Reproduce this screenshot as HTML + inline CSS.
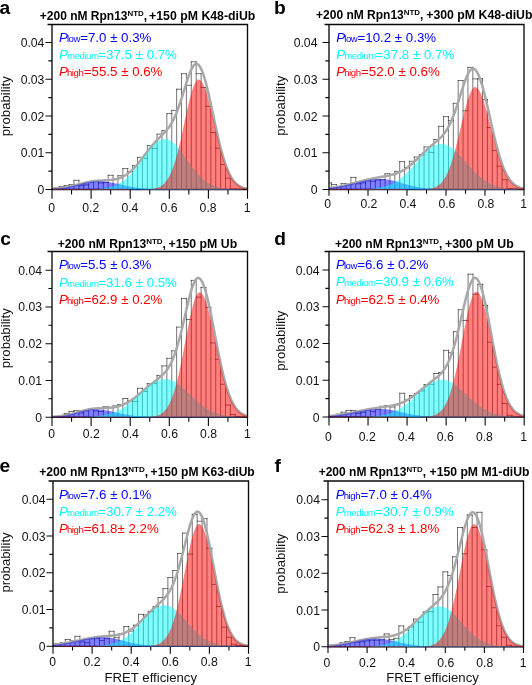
<!DOCTYPE html>
<html lang="en">
<head>
<meta charset="utf-8">
<title>FRET efficiency histograms</title>
<style>
html,body{margin:0;padding:0;background:#fff;}
body{width:532px;height:685px;overflow:hidden;font-family:"Liberation Sans",Arial,Helvetica,sans-serif;}
svg{display:block;}
text{font-family:"Liberation Sans",Arial,Helvetica,sans-serif;fill:#111;}
.tk{font-size:12.2px;}
.lb{font-size:13.2px;}
.tt{font-weight:bold;fill:#000;}
.sp{font-size:7.9px;}
.t2{font-size:12.3px;}
.lt{font-size:19.2px;font-weight:bold;fill:#000;}
.lg{font-size:13.3px;}
.lg text{fill:inherit;}
.sb{font-size:9.6px;letter-spacing:-0.4px;}
</style>
</head>
<body>
<svg width="532" height="685" viewBox="0 0 532 685">
<rect width="532" height="685" fill="#fff"/>
<defs>
<clipPath id="ca"><rect x="52" y="24.5" width="195.5" height="165.6"/></clipPath>
<clipPath id="cb"><rect x="329" y="24.5" width="195" height="165.6"/></clipPath>
<clipPath id="cc"><rect x="52" y="251.5" width="195.5" height="166.29999999999998"/></clipPath>
<clipPath id="cd"><rect x="329" y="251.5" width="195.20000000000005" height="166.1"/></clipPath>
<clipPath id="ce"><rect x="53" y="481" width="195.5" height="165.89999999999995"/></clipPath>
<clipPath id="cf"><rect x="328" y="481" width="195.5" height="166.39999999999995"/></clipPath>
</defs>
<g id="panel-a">
<g clip-path="url(#ca)">
<path d="M49.56 188.80h4.89M54.44 187.90h4.89M59.33 186.60h4.89M64.22 185.60h4.89M69.11 184.60h4.89M73.99 180.30h4.89M78.88 185.80h4.89M83.77 184.90h4.89M88.66 182.50h4.89M93.54 181.60h4.89M98.43 182.90h4.89M103.32 182.50h4.89M108.21 175.30h4.89M113.09 179.21h4.89M117.98 175.70h4.89M122.87 168.60h4.89M127.76 171.73h4.89M132.64 165.60h4.89M137.53 157.40h4.89M142.42 158.30h4.89M147.31 145.60h4.89M152.19 148.40h4.89M157.08 134.20h4.89M161.97 130.70h4.89M166.86 113.60h4.89M171.74 110.40h4.89M176.63 89.20h4.89M181.52 73.70h4.89M186.41 85.30h4.89M191.29 61.80h4.89M196.18 73.70h4.89M201.07 87.50h4.89M205.96 106.30h4.89M210.84 132.50h4.89M215.73 148.20h4.89M220.62 164.50h4.89M225.51 178.10h4.89M230.39 189.00h4.89M235.28 189.20h4.89M240.17 189.40h4.89M245.06 189.50h4.89M49.56 189.50V188.80M54.44 189.50V187.90M59.33 189.50V186.60M64.22 189.50V185.60M69.11 189.50V184.60M73.99 189.50V180.30M78.88 189.50V180.30M83.77 189.50V184.90M88.66 189.50V182.50M93.54 189.50V181.60M98.43 189.50V181.60M103.32 189.50V182.50M108.21 189.50V175.30M113.09 189.50V175.30M117.98 189.50V175.70M122.87 189.50V168.60M127.76 189.50V168.60M132.64 189.50V165.60M137.53 189.50V157.40M142.42 189.50V157.40M147.31 189.50V145.60M152.19 189.50V145.60M157.08 189.50V134.20M161.97 189.50V130.70M166.86 189.50V113.60M171.74 189.50V110.40M176.63 189.50V89.20M181.52 189.50V73.70M186.41 189.50V73.70M191.29 189.50V61.80M196.18 189.50V61.80M201.07 189.50V73.70M205.96 189.50V87.50M210.84 189.50V106.30M215.73 189.50V132.50M220.62 189.50V148.20M225.51 189.50V164.50M230.39 189.50V178.10M235.28 189.50V189.00M240.17 189.50V189.20M245.06 189.50V189.40M249.94 189.50V189.50" fill="none" stroke="#1a1a1a" stroke-width="0.6" stroke-linecap="square"/>
<path d="M52.00 188.98 L52.98 188.91 L53.95 188.84 L54.93 188.76 L55.91 188.68 L56.89 188.59 L57.87 188.49 L58.84 188.38 L59.82 188.26 L60.80 188.14 L61.77 188.01 L62.75 187.86 L63.73 187.71 L64.71 187.55 L65.69 187.38 L66.66 187.20 L67.64 187.01 L68.62 186.81 L69.59 186.61 L70.57 186.39 L71.55 186.17 L72.53 185.94 L73.50 185.70 L74.48 185.46 L75.46 185.22 L76.44 184.97 L77.41 184.72 L78.39 184.46 L79.37 184.21 L80.35 183.95 L81.33 183.70 L82.30 183.45 L83.28 183.20 L84.26 182.96 L85.23 182.73 L86.21 182.50 L87.19 182.29 L88.17 182.08 L89.15 181.88 L90.12 181.70 L91.10 181.53 L92.08 181.37 L93.06 181.23 L94.03 181.10 L95.01 180.98 L95.99 180.88 L96.97 180.79 L97.94 180.71 L98.92 180.65 L99.90 180.59 L100.88 180.53 L101.85 180.48 L102.83 180.44 L103.81 180.39 L104.78 180.34 L105.76 180.30 L106.74 180.24 L107.72 180.18 L108.69 180.12 L109.67 180.04 L110.65 179.95 L111.63 179.84 L112.60 179.72 L113.58 179.57 L114.56 179.40 L115.54 179.21 L116.52 178.99 L117.49 178.73 L118.47 178.45 L119.45 178.13 L120.42 177.77 L121.40 177.37 L122.38 176.93 L123.36 176.44 L124.33 175.91 L125.31 175.33 L126.29 174.71 L127.27 174.04 L128.25 173.32 L129.22 172.55 L130.20 171.73 L131.18 170.86 L132.16 169.95 L133.13 168.99 L134.11 167.98 L135.09 166.93 L136.06 165.85 L137.04 164.72 L138.02 163.57 L139.00 162.38 L139.98 161.17 L140.95 159.93 L141.93 158.68 L142.91 157.41 L143.88 156.13 L144.86 154.85 L145.84 153.57 L146.82 152.29 L147.80 151.03 L148.77 149.78 L149.75 148.54 L150.73 147.33 L151.70 146.15 L152.68 144.99 L153.66 143.85 L154.64 142.75 L155.62 141.68 L156.59 140.63 L157.57 139.61 L158.55 138.61 L159.53 137.62 L160.50 136.64 L161.48 135.67 L162.46 134.69 L163.44 133.69 L164.41 132.66 L165.39 131.60 L166.37 130.48 L167.34 129.30 L168.32 128.05 L169.30 126.70 L170.28 125.25 L171.25 123.68 L172.23 121.99 L173.21 120.15 L174.19 118.17 L175.17 116.03 L176.14 113.74 L177.12 111.29 L178.10 108.69 L179.07 105.95 L180.05 103.07 L181.03 100.09 L182.01 97.01 L182.99 93.87 L183.96 90.69 L184.94 87.51 L185.92 84.37 L186.89 81.30 L187.87 78.34 L188.85 75.55 L189.83 72.95 L190.81 70.60 L191.78 68.54 L192.76 66.81 L193.74 65.44 L194.72 64.46 L195.69 63.90 L196.67 63.79 L197.65 64.13 L198.62 64.95 L199.60 66.19 L200.58 67.83 L201.56 69.85 L202.53 72.24 L203.51 74.98 L204.49 78.06 L205.47 81.43 L206.44 85.09 L207.42 88.98 L208.40 93.09 L209.38 97.37 L210.36 101.79 L211.33 106.31 L212.31 110.89 L213.29 115.50 L214.26 120.11 L215.24 124.68 L216.22 129.18 L217.20 133.58 L218.17 137.86 L219.15 142.00 L220.13 145.97 L221.11 149.77 L222.09 153.38 L223.06 156.79 L224.04 159.99 L225.02 162.98 L226.00 165.76 L226.97 168.34 L227.95 170.71 L228.93 172.87 L229.91 174.85 L230.88 176.64 L231.86 178.26 L232.84 179.71 L233.81 181.01 L234.79 182.17 L235.77 183.19 L236.75 184.09 L237.72 184.88 L238.70 185.57 L239.68 186.17 L240.66 186.69 L241.63 187.14 L242.61 187.52 L243.59 187.85 L244.57 188.13 L245.54 188.37 L246.52 188.57 L247.50 188.73" fill="none" stroke="#a8a8a8" stroke-width="2.5" stroke-linejoin="round"/>
</g>
<path d="M52.00 189.50V24.50M48.20 24.50H247.50V189.50H52.00" fill="none" stroke="#0a0a0a" stroke-width="1.35" stroke-linecap="square"/>
<path d="M52.00 189.50h-6.5M52.00 171.12h-3.6M52.00 152.75h-6.5M52.00 134.38h-3.6M52.00 116.00h-6.5M52.00 97.62h-3.6M52.00 79.25h-6.5M52.00 60.88h-3.6M52.00 42.50h-6.5M52.00 189.50v9.2M71.55 189.50v5.0M91.10 189.50v9.2M110.65 189.50v5.0M130.20 189.50v9.2M149.75 189.50v5.0M169.30 189.50v9.2M188.85 189.50v5.0M208.40 189.50v9.2M227.95 189.50v5.0M247.50 189.50v9.2" fill="none" stroke="#0a0a0a" stroke-width="1.1"/>
<g clip-path="url(#ca)">
<path d="M52.00 189.50 L52.00 188.98 L52.98 188.91 L53.95 188.84 L54.93 188.76 L55.91 188.68 L56.89 188.59 L57.87 188.49 L58.84 188.38 L59.82 188.26 L60.80 188.14 L61.77 188.01 L62.75 187.86 L63.73 187.71 L64.71 187.55 L65.69 187.38 L66.66 187.20 L67.64 187.01 L68.62 186.82 L69.59 186.61 L70.57 186.40 L71.55 186.18 L72.53 185.95 L73.50 185.71 L74.48 185.48 L75.46 185.23 L76.44 184.98 L77.41 184.74 L78.39 184.48 L79.37 184.23 L80.35 183.98 L81.33 183.74 L82.30 183.50 L83.28 183.26 L84.26 183.03 L85.23 182.81 L86.21 182.59 L87.19 182.39 L88.17 182.20 L89.15 182.03 L90.12 181.87 L91.10 181.72 L92.08 181.60 L93.06 181.49 L94.03 181.39 L95.01 181.32 L95.99 181.27 L96.97 181.24 L97.94 181.23 L98.92 181.24 L99.90 181.26 L100.88 181.30 L101.85 181.36 L102.83 181.42 L103.81 181.51 L104.78 181.61 L105.76 181.72 L106.74 181.84 L107.72 181.98 L108.69 182.12 L109.67 182.28 L110.65 182.45 L111.63 182.63 L112.60 182.82 L113.58 183.01 L114.56 183.21 L115.54 183.41 L116.52 183.62 L117.49 183.83 L118.47 184.05 L119.45 184.27 L120.42 184.48 L121.40 184.70 L122.38 184.92 L123.36 185.14 L124.33 185.35 L125.31 185.56 L126.29 185.77 L127.27 185.97 L128.25 186.17 L129.22 186.36 L130.20 186.55 L131.18 186.73 L132.16 186.90 L133.13 187.07 L134.11 187.23 L135.09 187.39 L136.06 187.54 L137.04 187.68 L138.02 187.81 L139.00 187.94 L139.98 188.06 L140.95 188.17 L141.93 188.28 L142.91 188.38 L143.88 188.48 L144.86 188.56 L145.84 188.65 L146.82 188.72 L147.80 188.79 L148.77 188.86 L149.75 188.92 L150.73 188.97 L151.70 189.03 L152.68 189.07 L153.66 189.12 L154.64 189.16 L155.62 189.19 L156.59 189.22 L157.57 189.25 L158.55 189.28 L159.53 189.31 L160.50 189.33 L161.48 189.35 L162.46 189.37 L163.44 189.38 L164.41 189.40 L165.39 189.41 L166.37 189.42 L167.34 189.43 L168.32 189.44 L169.30 189.45 L170.28 189.45 L171.25 189.46 L172.23 189.46 L173.21 189.47 L174.19 189.47 L175.17 189.48 L176.14 189.48 L177.12 189.48 L178.10 189.49 L179.07 189.49 L180.05 189.49 L181.03 189.49 L182.01 189.49 L182.99 189.49 L183.96 189.49 L184.94 189.50 L185.92 189.50 L186.89 189.50 L187.87 189.50 L188.85 189.50 L189.83 189.50 L190.81 189.50 L191.78 189.50 L192.76 189.50 L193.74 189.50 L194.72 189.50 L195.69 189.50 L196.67 189.50 L197.65 189.50 L198.62 189.50 L199.60 189.50 L200.58 189.50 L201.56 189.50 L202.53 189.50 L203.51 189.50 L204.49 189.50 L205.47 189.50 L206.44 189.50 L207.42 189.50 L208.40 189.50 L209.38 189.50 L210.36 189.50 L211.33 189.50 L212.31 189.50 L213.29 189.50 L214.26 189.50 L215.24 189.50 L216.22 189.50 L217.20 189.50 L218.17 189.50 L219.15 189.50 L220.13 189.50 L221.11 189.50 L222.09 189.50 L223.06 189.50 L224.04 189.50 L225.02 189.50 L226.00 189.50 L226.97 189.50 L227.95 189.50 L228.93 189.50 L229.91 189.50 L230.88 189.50 L231.86 189.50 L232.84 189.50 L233.81 189.50 L234.79 189.50 L235.77 189.50 L236.75 189.50 L237.72 189.50 L238.70 189.50 L239.68 189.50 L240.66 189.50 L241.63 189.50 L242.61 189.50 L243.59 189.50 L244.57 189.50 L245.54 189.50 L246.52 189.50 L247.50 189.50 L247.50 189.50Z" fill="rgba(0,0,255,0.5)" stroke="none"/>
<path d="M52.00 189.50 L52.00 189.50 L52.98 189.50 L53.95 189.50 L54.93 189.50 L55.91 189.50 L56.89 189.50 L57.87 189.50 L58.84 189.50 L59.82 189.50 L60.80 189.50 L61.77 189.50 L62.75 189.50 L63.73 189.50 L64.71 189.50 L65.69 189.50 L66.66 189.50 L67.64 189.50 L68.62 189.50 L69.59 189.50 L70.57 189.49 L71.55 189.49 L72.53 189.49 L73.50 189.49 L74.48 189.49 L75.46 189.49 L76.44 189.48 L77.41 189.48 L78.39 189.48 L79.37 189.47 L80.35 189.47 L81.33 189.46 L82.30 189.45 L83.28 189.44 L84.26 189.43 L85.23 189.42 L86.21 189.41 L87.19 189.39 L88.17 189.38 L89.15 189.36 L90.12 189.33 L91.10 189.31 L92.08 189.28 L93.06 189.24 L94.03 189.20 L95.01 189.16 L95.99 189.11 L96.97 189.05 L97.94 188.98 L98.92 188.91 L99.90 188.83 L100.88 188.73 L101.85 188.63 L102.83 188.51 L103.81 188.38 L104.78 188.24 L105.76 188.08 L106.74 187.90 L107.72 187.71 L108.69 187.49 L109.67 187.26 L110.65 187.00 L111.63 186.71 L112.60 186.40 L113.58 186.06 L114.56 185.70 L115.54 185.30 L116.52 184.86 L117.49 184.40 L118.47 183.90 L119.45 183.36 L120.42 182.78 L121.40 182.16 L122.38 181.51 L123.36 180.81 L124.33 180.06 L125.31 179.28 L126.29 178.44 L127.27 177.57 L128.25 176.65 L129.22 175.69 L130.20 174.68 L131.18 173.63 L132.16 172.55 L133.13 171.42 L134.11 170.25 L135.09 169.05 L136.06 167.82 L137.04 166.56 L138.02 165.27 L139.00 163.96 L139.98 162.63 L140.95 161.29 L141.93 159.94 L142.91 158.58 L143.88 157.23 L144.86 155.88 L145.84 154.54 L146.82 153.22 L147.80 151.93 L148.77 150.67 L149.75 149.44 L150.73 148.25 L151.70 147.11 L152.68 146.03 L153.66 145.01 L154.64 144.05 L155.62 143.16 L156.59 142.34 L157.57 141.61 L158.55 140.95 L159.53 140.39 L160.50 139.92 L161.48 139.54 L162.46 139.25 L163.44 139.07 L164.41 138.98 L165.39 138.99 L166.37 139.10 L167.34 139.32 L168.32 139.64 L169.30 140.06 L170.28 140.58 L171.25 141.19 L172.23 141.90 L173.21 142.69 L174.19 143.56 L175.17 144.51 L176.14 145.53 L177.12 146.61 L178.10 147.76 L179.07 148.96 L180.05 150.20 L181.03 151.49 L182.01 152.81 L182.99 154.15 L183.96 155.52 L184.94 156.90 L185.92 158.29 L186.89 159.69 L187.87 161.08 L188.85 162.46 L189.83 163.82 L190.81 165.17 L191.78 166.50 L192.76 167.79 L193.74 169.06 L194.72 170.29 L195.69 171.49 L196.67 172.64 L197.65 173.76 L198.62 174.83 L199.60 175.86 L200.58 176.84 L201.56 177.77 L202.53 178.66 L203.51 179.50 L204.49 180.30 L205.47 181.04 L206.44 181.75 L207.42 182.41 L208.40 183.03 L209.38 183.60 L210.36 184.14 L211.33 184.64 L212.31 185.10 L213.29 185.52 L214.26 185.91 L215.24 186.27 L216.22 186.60 L217.20 186.90 L218.17 187.18 L219.15 187.43 L220.13 187.65 L221.11 187.86 L222.09 188.04 L223.06 188.21 L224.04 188.36 L225.02 188.50 L226.00 188.62 L226.97 188.73 L227.95 188.82 L228.93 188.91 L229.91 188.98 L230.88 189.05 L231.86 189.11 L232.84 189.16 L233.81 189.21 L234.79 189.25 L235.77 189.28 L236.75 189.31 L237.72 189.34 L238.70 189.36 L239.68 189.38 L240.66 189.40 L241.63 189.41 L242.61 189.43 L243.59 189.44 L244.57 189.45 L245.54 189.46 L246.52 189.46 L247.50 189.47 L247.50 189.50Z" fill="rgba(0,255,255,0.5)" stroke="none"/>
<path d="M52.00 189.50 L52.00 189.50 L52.98 189.50 L53.95 189.50 L54.93 189.50 L55.91 189.50 L56.89 189.50 L57.87 189.50 L58.84 189.50 L59.82 189.50 L60.80 189.50 L61.77 189.50 L62.75 189.50 L63.73 189.50 L64.71 189.50 L65.69 189.50 L66.66 189.50 L67.64 189.50 L68.62 189.50 L69.59 189.50 L70.57 189.50 L71.55 189.50 L72.53 189.50 L73.50 189.50 L74.48 189.50 L75.46 189.50 L76.44 189.50 L77.41 189.50 L78.39 189.50 L79.37 189.50 L80.35 189.50 L81.33 189.50 L82.30 189.50 L83.28 189.50 L84.26 189.50 L85.23 189.50 L86.21 189.50 L87.19 189.50 L88.17 189.50 L89.15 189.50 L90.12 189.50 L91.10 189.50 L92.08 189.50 L93.06 189.50 L94.03 189.50 L95.01 189.50 L95.99 189.50 L96.97 189.50 L97.94 189.50 L98.92 189.50 L99.90 189.50 L100.88 189.50 L101.85 189.50 L102.83 189.50 L103.81 189.50 L104.78 189.50 L105.76 189.50 L106.74 189.50 L107.72 189.50 L108.69 189.50 L109.67 189.50 L110.65 189.50 L111.63 189.50 L112.60 189.50 L113.58 189.50 L114.56 189.50 L115.54 189.50 L116.52 189.50 L117.49 189.50 L118.47 189.50 L119.45 189.50 L120.42 189.50 L121.40 189.50 L122.38 189.50 L123.36 189.50 L124.33 189.50 L125.31 189.50 L126.29 189.50 L127.27 189.50 L128.25 189.50 L129.22 189.50 L130.20 189.50 L131.18 189.50 L132.16 189.50 L133.13 189.50 L134.11 189.50 L135.09 189.49 L136.06 189.49 L137.04 189.49 L138.02 189.49 L139.00 189.48 L139.98 189.48 L140.95 189.47 L141.93 189.46 L142.91 189.45 L143.88 189.43 L144.86 189.41 L145.84 189.38 L146.82 189.35 L147.80 189.31 L148.77 189.25 L149.75 189.19 L150.73 189.11 L151.70 189.01 L152.68 188.88 L153.66 188.73 L154.64 188.55 L155.62 188.33 L156.59 188.06 L157.57 187.75 L158.55 187.37 L159.53 186.92 L160.50 186.40 L161.48 185.79 L162.46 185.07 L163.44 184.24 L164.41 183.29 L165.39 182.20 L166.37 180.96 L167.34 179.55 L168.32 177.97 L169.30 176.19 L170.28 174.22 L171.25 172.03 L172.23 169.63 L173.21 166.99 L174.19 164.13 L175.17 161.05 L176.14 157.73 L177.12 154.19 L178.10 150.44 L179.07 146.50 L180.05 142.38 L181.03 138.11 L182.01 133.71 L182.99 129.22 L183.96 124.68 L184.94 120.12 L185.92 115.58 L186.89 111.11 L187.87 106.77 L188.85 102.59 L189.83 98.63 L190.81 94.93 L191.78 91.55 L192.76 88.52 L193.74 85.88 L194.72 83.67 L195.69 81.91 L196.67 80.64 L197.65 79.87 L198.62 79.62 L199.60 79.84 L200.58 80.49 L201.56 81.58 L202.53 83.08 L203.51 84.98 L204.49 87.26 L205.47 89.89 L206.44 92.84 L207.42 96.07 L208.40 99.56 L209.38 103.27 L210.36 107.15 L211.33 111.17 L212.31 115.29 L213.29 119.48 L214.26 123.70 L215.24 127.91 L216.22 132.08 L217.20 136.18 L218.17 140.18 L219.15 144.07 L220.13 147.82 L221.11 151.41 L222.09 154.83 L223.06 158.07 L224.04 161.13 L225.02 163.98 L226.00 166.65 L226.97 169.11 L227.95 171.38 L228.93 173.47 L229.91 175.37 L230.88 177.09 L231.86 178.65 L232.84 180.05 L233.81 181.30 L234.79 182.42 L235.77 183.41 L236.75 184.28 L237.72 185.04 L238.70 185.71 L239.68 186.29 L240.66 186.79 L241.63 187.23 L242.61 187.60 L243.59 187.91 L244.57 188.18 L245.54 188.41 L246.52 188.60 L247.50 188.76 L247.50 189.50Z" fill="rgba(255,0,0,0.5)" stroke="none"/>
<path d="M53.00 189.50H130.20" stroke="rgba(150,40,40,0.75)" stroke-width="0.9" fill="none"/>
<path d="M139.98 189.50H242.61" stroke="rgba(60,80,150,0.8)" stroke-width="0.9" fill="none"/>
</g>
<text x="44.40" y="194.00" text-anchor="end" class="tk">0</text>
<text x="44.40" y="157.25" text-anchor="end" class="tk">0.01</text>
<text x="44.40" y="120.50" text-anchor="end" class="tk">0.02</text>
<text x="44.40" y="83.75" text-anchor="end" class="tk">0.03</text>
<text x="44.40" y="47.00" text-anchor="end" class="tk">0.04</text>
<text x="51.70" y="211.50" text-anchor="middle" class="tk">0</text>
<text x="90.80" y="211.50" text-anchor="middle" class="tk">0.2</text>
<text x="129.90" y="211.50" text-anchor="middle" class="tk">0.4</text>
<text x="169.00" y="211.50" text-anchor="middle" class="tk">0.6</text>
<text x="208.10" y="211.50" text-anchor="middle" class="tk">0.8</text>
<text x="247.20" y="211.50" text-anchor="middle" class="tk">1</text>
<text transform="translate(10.00 106.20) rotate(-90)" text-anchor="middle" class="lb">probability</text>
<text x="39.80" y="20.00" class="tt" font-size="12">+200 nM Rpn13<tspan font-size="7.92" dy="-4.0">NTD</tspan><tspan dy="4.0">,</tspan><tspan font-size="12.3" dx="-1.4"> +150 pM K48-diUb</tspan></text>
<text x="-0.40" y="14.20" class="lt">a</text>
<g class="lg" style="fill:#0000ff"><text x="59.00" y="41.50" font-style="italic">P</text><text x="66.90" y="41.50" class="sb">low</text><text x="80.20" y="41.50">=7.0 ± 0.3%</text></g>
<g class="lg" style="fill:#00ffff"><text x="59.00" y="58.75" font-style="italic">P</text><text x="66.90" y="58.75" class="sb">medium</text><text x="98.30" y="58.75">=37.5 ± 0.7%</text></g>
<g class="lg" style="fill:#ff0000"><text x="59.00" y="76.00" font-style="italic">P</text><text x="66.90" y="76.00" class="sb">high</text><text x="83.80" y="76.00">=55.5 ± 0.6%</text></g>
</g>
<g id="panel-b">
<g clip-path="url(#cb)">
<path d="M326.56 182.90h4.88M331.44 184.50h4.88M336.31 186.90h4.88M341.19 183.60h4.88M346.06 184.90h4.88M350.94 177.40h4.88M355.81 183.80h4.88M360.69 182.90h4.88M365.56 180.90h4.88M370.44 181.30h4.88M375.31 180.00h4.88M380.19 179.60h4.88M385.06 173.70h4.88M389.94 174.65h4.88M394.81 171.30h4.88M399.69 161.60h4.88M404.56 167.81h4.88M409.44 161.30h4.88M414.31 157.00h4.88M419.19 154.77h4.88M424.06 146.90h4.88M428.94 152.40h4.88M433.81 139.50h4.88M438.69 126.30h4.88M443.56 116.60h4.88M448.44 120.60h4.88M453.31 103.30h4.88M458.19 80.50h4.88M463.06 110.80h4.88M467.94 67.40h4.88M472.81 78.90h4.88M477.69 78.70h4.88M482.56 99.70h4.88M487.44 127.60h4.88M492.31 150.40h4.88M497.19 166.20h4.88M502.06 179.80h4.88M506.94 188.50h4.88M511.81 189.00h4.88M516.69 189.30h4.88M521.56 189.40h4.88M326.56 189.50V182.90M331.44 189.50V182.90M336.31 189.50V184.50M341.19 189.50V183.60M346.06 189.50V183.60M350.94 189.50V177.40M355.81 189.50V177.40M360.69 189.50V182.90M365.56 189.50V180.90M370.44 189.50V180.90M375.31 189.50V180.00M380.19 189.50V179.60M385.06 189.50V173.70M389.94 189.50V173.70M394.81 189.50V171.30M399.69 189.50V161.60M404.56 189.50V161.60M409.44 189.50V161.30M414.31 189.50V157.00M419.19 189.50V154.77M424.06 189.50V146.90M428.94 189.50V146.90M433.81 189.50V139.50M438.69 189.50V126.30M443.56 189.50V116.60M448.44 189.50V116.60M453.31 189.50V103.30M458.19 189.50V80.50M463.06 189.50V80.50M467.94 189.50V67.40M472.81 189.50V67.40M477.69 189.50V78.70M482.56 189.50V78.70M487.44 189.50V99.70M492.31 189.50V127.60M497.19 189.50V150.40M502.06 189.50V166.20M506.94 189.50V179.80M511.81 189.50V188.50M516.69 189.50V189.00M521.56 189.50V189.30M526.44 189.50V189.40" fill="none" stroke="#1a1a1a" stroke-width="0.6" stroke-linecap="square"/>
<path d="M329.00 188.08 L329.98 187.96 L330.95 187.84 L331.93 187.72 L332.90 187.59 L333.88 187.45 L334.85 187.30 L335.82 187.15 L336.80 186.99 L337.77 186.82 L338.75 186.64 L339.73 186.46 L340.70 186.27 L341.68 186.08 L342.65 185.88 L343.62 185.67 L344.60 185.45 L345.57 185.23 L346.55 185.01 L347.52 184.78 L348.50 184.54 L349.48 184.30 L350.45 184.06 L351.43 183.81 L352.40 183.56 L353.38 183.31 L354.35 183.05 L355.32 182.80 L356.30 182.54 L357.27 182.28 L358.25 182.03 L359.23 181.77 L360.20 181.52 L361.18 181.26 L362.15 181.01 L363.12 180.77 L364.10 180.52 L365.07 180.28 L366.05 180.05 L367.02 179.82 L368.00 179.59 L368.98 179.37 L369.95 179.15 L370.93 178.94 L371.90 178.73 L372.88 178.53 L373.85 178.33 L374.82 178.14 L375.80 177.95 L376.77 177.76 L377.75 177.58 L378.73 177.40 L379.70 177.21 L380.68 177.03 L381.65 176.85 L382.62 176.68 L383.60 176.50 L384.57 176.33 L385.55 176.15 L386.52 175.96 L387.50 175.77 L388.48 175.57 L389.45 175.36 L390.43 175.14 L391.40 174.90 L392.38 174.65 L393.35 174.38 L394.32 174.09 L395.30 173.78 L396.27 173.45 L397.25 173.08 L398.23 172.70 L399.20 172.28 L400.18 171.83 L401.15 171.35 L402.12 170.85 L403.10 170.30 L404.07 169.73 L405.05 169.12 L406.02 168.48 L407.00 167.81 L407.98 167.10 L408.95 166.36 L409.93 165.59 L410.90 164.80 L411.88 163.97 L412.85 163.13 L413.82 162.25 L414.80 161.36 L415.77 160.45 L416.75 159.52 L417.73 158.59 L418.70 157.64 L419.68 156.68 L420.65 155.73 L421.62 154.77 L422.60 153.82 L423.57 152.87 L424.55 151.93 L425.52 151.00 L426.50 150.08 L427.48 149.17 L428.45 148.28 L429.43 147.41 L430.40 146.55 L431.38 145.70 L432.35 144.87 L433.32 144.04 L434.30 143.21 L435.27 142.39 L436.25 141.56 L437.23 140.72 L438.20 139.85 L439.17 138.96 L440.15 138.02 L441.12 137.04 L442.10 135.99 L443.07 134.87 L444.05 133.67 L445.02 132.37 L446.00 130.96 L446.98 129.43 L447.95 127.78 L448.93 125.99 L449.90 124.06 L450.88 121.98 L451.85 119.75 L452.82 117.38 L453.80 114.86 L454.77 112.21 L455.75 109.44 L456.73 106.55 L457.70 103.58 L458.68 100.53 L459.65 97.44 L460.62 94.33 L461.60 91.25 L462.58 88.21 L463.55 85.26 L464.52 82.44 L465.50 79.78 L466.48 77.32 L467.45 75.10 L468.42 73.16 L469.40 71.54 L470.38 70.25 L471.35 69.34 L472.32 68.82 L473.30 68.71 L474.27 69.03 L475.25 69.78 L476.23 70.93 L477.20 72.45 L478.18 74.33 L479.15 76.57 L480.12 79.13 L481.10 82.01 L482.08 85.17 L483.05 88.59 L484.02 92.25 L485.00 96.11 L485.98 100.13 L486.95 104.29 L487.92 108.55 L488.90 112.88 L489.88 117.24 L490.85 121.60 L491.82 125.94 L492.80 130.21 L493.77 134.41 L494.75 138.49 L495.73 142.45 L496.70 146.26 L497.68 149.91 L498.65 153.39 L499.62 156.68 L500.60 159.78 L501.57 162.69 L502.55 165.41 L503.52 167.93 L504.50 170.26 L505.48 172.40 L506.45 174.36 L507.43 176.14 L508.40 177.76 L509.38 179.22 L510.35 180.53 L511.33 181.70 L512.30 182.74 L513.27 183.67 L514.25 184.48 L515.23 185.20 L516.20 185.83 L517.17 186.37 L518.15 186.85 L519.12 187.26 L520.10 187.61 L521.08 187.91 L522.05 188.17 L523.02 188.39 L524.00 188.58" fill="none" stroke="#a8a8a8" stroke-width="2.5" stroke-linejoin="round"/>
</g>
<path d="M329.00 189.50V24.50M325.20 24.50H524.00V189.50H329.00" fill="none" stroke="#0a0a0a" stroke-width="1.35" stroke-linecap="square"/>
<path d="M329.00 189.50h-6.5M329.00 171.12h-3.6M329.00 152.75h-6.5M329.00 134.38h-3.6M329.00 116.00h-6.5M329.00 97.62h-3.6M329.00 79.25h-6.5M329.00 60.88h-3.6M329.00 42.50h-6.5M329.00 189.50v6.2M348.50 189.50v4.2M368.00 189.50v6.2M387.50 189.50v4.2M407.00 189.50v6.2M426.50 189.50v4.2M446.00 189.50v6.2M465.50 189.50v4.2M485.00 189.50v6.2M504.50 189.50v4.2M524.00 189.50v6.2" fill="none" stroke="#0a0a0a" stroke-width="1.1"/>
<g clip-path="url(#cb)">
<path d="M329.00 189.50 L329.00 188.08 L329.98 187.96 L330.95 187.85 L331.93 187.72 L332.90 187.59 L333.88 187.45 L334.85 187.30 L335.82 187.15 L336.80 186.99 L337.77 186.82 L338.75 186.65 L339.73 186.47 L340.70 186.28 L341.68 186.09 L342.65 185.89 L343.62 185.68 L344.60 185.47 L345.57 185.25 L346.55 185.03 L347.52 184.80 L348.50 184.57 L349.48 184.34 L350.45 184.10 L351.43 183.86 L352.40 183.61 L353.38 183.37 L354.35 183.13 L355.32 182.88 L356.30 182.64 L357.27 182.39 L358.25 182.15 L359.23 181.91 L360.20 181.68 L361.18 181.45 L362.15 181.23 L363.12 181.01 L364.10 180.80 L365.07 180.60 L366.05 180.41 L367.02 180.22 L368.00 180.05 L368.98 179.89 L369.95 179.74 L370.93 179.60 L371.90 179.48 L372.88 179.36 L373.85 179.27 L374.82 179.18 L375.80 179.11 L376.77 179.06 L377.75 179.02 L378.73 179.00 L379.70 178.99 L380.68 179.00 L381.65 179.03 L382.62 179.08 L383.60 179.15 L384.57 179.23 L385.55 179.34 L386.52 179.47 L387.50 179.61 L388.48 179.76 L389.45 179.94 L390.43 180.13 L391.40 180.33 L392.38 180.54 L393.35 180.77 L394.32 181.00 L395.30 181.25 L396.27 181.50 L397.25 181.76 L398.23 182.03 L399.20 182.30 L400.18 182.57 L401.15 182.85 L402.12 183.13 L403.10 183.40 L404.07 183.68 L405.05 183.95 L406.02 184.22 L407.00 184.49 L407.98 184.75 L408.95 185.01 L409.93 185.26 L410.90 185.51 L411.88 185.75 L412.85 185.98 L413.82 186.20 L414.80 186.41 L415.77 186.62 L416.75 186.82 L417.73 187.00 L418.70 187.18 L419.68 187.35 L420.65 187.52 L421.62 187.67 L422.60 187.81 L423.57 187.95 L424.55 188.08 L425.52 188.20 L426.50 188.31 L427.48 188.41 L428.45 188.51 L429.43 188.60 L430.40 188.68 L431.38 188.76 L432.35 188.83 L433.32 188.90 L434.30 188.96 L435.27 189.01 L436.25 189.06 L437.23 189.11 L438.20 189.15 L439.17 189.19 L440.15 189.22 L441.12 189.25 L442.10 189.28 L443.07 189.31 L444.05 189.33 L445.02 189.35 L446.00 189.37 L446.98 189.38 L447.95 189.40 L448.93 189.41 L449.90 189.42 L450.88 189.43 L451.85 189.44 L452.82 189.45 L453.80 189.46 L454.77 189.46 L455.75 189.47 L456.73 189.47 L457.70 189.48 L458.68 189.48 L459.65 189.48 L460.62 189.48 L461.60 189.49 L462.58 189.49 L463.55 189.49 L464.52 189.49 L465.50 189.49 L466.48 189.49 L467.45 189.50 L468.42 189.50 L469.40 189.50 L470.38 189.50 L471.35 189.50 L472.32 189.50 L473.30 189.50 L474.27 189.50 L475.25 189.50 L476.23 189.50 L477.20 189.50 L478.18 189.50 L479.15 189.50 L480.12 189.50 L481.10 189.50 L482.08 189.50 L483.05 189.50 L484.02 189.50 L485.00 189.50 L485.98 189.50 L486.95 189.50 L487.92 189.50 L488.90 189.50 L489.88 189.50 L490.85 189.50 L491.82 189.50 L492.80 189.50 L493.77 189.50 L494.75 189.50 L495.73 189.50 L496.70 189.50 L497.68 189.50 L498.65 189.50 L499.62 189.50 L500.60 189.50 L501.57 189.50 L502.55 189.50 L503.52 189.50 L504.50 189.50 L505.48 189.50 L506.45 189.50 L507.43 189.50 L508.40 189.50 L509.38 189.50 L510.35 189.50 L511.33 189.50 L512.30 189.50 L513.27 189.50 L514.25 189.50 L515.23 189.50 L516.20 189.50 L517.17 189.50 L518.15 189.50 L519.12 189.50 L520.10 189.50 L521.08 189.50 L522.05 189.50 L523.02 189.50 L524.00 189.50 L524.00 189.50Z" fill="rgba(0,0,255,0.5)" stroke="none"/>
<path d="M329.00 189.50 L329.00 189.50 L329.98 189.50 L330.95 189.50 L331.93 189.50 L332.90 189.50 L333.88 189.50 L334.85 189.50 L335.82 189.50 L336.80 189.50 L337.77 189.50 L338.75 189.49 L339.73 189.49 L340.70 189.49 L341.68 189.49 L342.65 189.49 L343.62 189.49 L344.60 189.48 L345.57 189.48 L346.55 189.48 L347.52 189.48 L348.50 189.47 L349.48 189.47 L350.45 189.46 L351.43 189.45 L352.40 189.45 L353.38 189.44 L354.35 189.43 L355.32 189.42 L356.30 189.41 L357.27 189.39 L358.25 189.38 L359.23 189.36 L360.20 189.34 L361.18 189.31 L362.15 189.29 L363.12 189.26 L364.10 189.22 L365.07 189.18 L366.05 189.14 L367.02 189.09 L368.00 189.04 L368.98 188.98 L369.95 188.91 L370.93 188.84 L371.90 188.76 L372.88 188.67 L373.85 188.57 L374.82 188.46 L375.80 188.34 L376.77 188.20 L377.75 188.06 L378.73 187.90 L379.70 187.72 L380.68 187.53 L381.65 187.33 L382.62 187.10 L383.60 186.86 L384.57 186.59 L385.55 186.30 L386.52 186.00 L387.50 185.66 L388.48 185.31 L389.45 184.92 L390.43 184.51 L391.40 184.08 L392.38 183.61 L393.35 183.12 L394.32 182.59 L395.30 182.03 L396.27 181.44 L397.25 180.82 L398.23 180.17 L399.20 179.48 L400.18 178.76 L401.15 178.01 L402.12 177.22 L403.10 176.40 L404.07 175.55 L405.05 174.67 L406.02 173.76 L407.00 172.82 L407.98 171.85 L408.95 170.85 L409.93 169.84 L410.90 168.80 L411.88 167.74 L412.85 166.66 L413.82 165.57 L414.80 164.47 L415.77 163.36 L416.75 162.24 L417.73 161.12 L418.70 160.01 L419.68 158.90 L420.65 157.80 L421.62 156.72 L422.60 155.65 L423.57 154.60 L424.55 153.58 L425.52 152.60 L426.50 151.64 L427.48 150.73 L428.45 149.85 L429.43 149.03 L430.40 148.25 L431.38 147.52 L432.35 146.86 L433.32 146.25 L434.30 145.70 L435.27 145.23 L436.25 144.81 L437.23 144.47 L438.20 144.20 L439.17 144.00 L440.15 143.87 L441.12 143.82 L442.10 143.84 L443.07 143.94 L444.05 144.11 L445.02 144.34 L446.00 144.65 L446.98 145.03 L447.95 145.48 L448.93 145.99 L449.90 146.56 L450.88 147.20 L451.85 147.89 L452.82 148.63 L453.80 149.43 L454.77 150.28 L455.75 151.16 L456.73 152.09 L457.70 153.05 L458.68 154.05 L459.65 155.07 L460.62 156.12 L461.60 157.18 L462.58 158.27 L463.55 159.36 L464.52 160.46 L465.50 161.57 L466.48 162.68 L467.45 163.79 L468.42 164.88 L469.40 165.97 L470.38 167.05 L471.35 168.11 L472.32 169.16 L473.30 170.18 L474.27 171.19 L475.25 172.16 L476.23 173.12 L477.20 174.04 L478.18 174.94 L479.15 175.80 L480.12 176.64 L481.10 177.44 L482.08 178.21 L483.05 178.95 L484.02 179.66 L485.00 180.33 L485.98 180.97 L486.95 181.58 L487.92 182.16 L488.90 182.70 L489.88 183.22 L490.85 183.70 L491.82 184.16 L492.80 184.59 L493.77 184.99 L494.75 185.37 L495.73 185.72 L496.70 186.04 L497.68 186.34 L498.65 186.63 L499.62 186.89 L500.60 187.13 L501.57 187.35 L502.55 187.55 L503.52 187.74 L504.50 187.91 L505.48 188.07 L506.45 188.21 L507.43 188.34 L508.40 188.46 L509.38 188.57 L510.35 188.67 L511.33 188.76 L512.30 188.84 L513.27 188.91 L514.25 188.98 L515.23 189.04 L516.20 189.09 L517.17 189.14 L518.15 189.18 L519.12 189.22 L520.10 189.25 L521.08 189.28 L522.05 189.31 L523.02 189.33 L524.00 189.36 L524.00 189.50Z" fill="rgba(0,255,255,0.5)" stroke="none"/>
<path d="M329.00 189.50 L329.00 189.50 L329.98 189.50 L330.95 189.50 L331.93 189.50 L332.90 189.50 L333.88 189.50 L334.85 189.50 L335.82 189.50 L336.80 189.50 L337.77 189.50 L338.75 189.50 L339.73 189.50 L340.70 189.50 L341.68 189.50 L342.65 189.50 L343.62 189.50 L344.60 189.50 L345.57 189.50 L346.55 189.50 L347.52 189.50 L348.50 189.50 L349.48 189.50 L350.45 189.50 L351.43 189.50 L352.40 189.50 L353.38 189.50 L354.35 189.50 L355.32 189.50 L356.30 189.50 L357.27 189.50 L358.25 189.50 L359.23 189.50 L360.20 189.50 L361.18 189.50 L362.15 189.50 L363.12 189.50 L364.10 189.50 L365.07 189.50 L366.05 189.50 L367.02 189.50 L368.00 189.50 L368.98 189.50 L369.95 189.50 L370.93 189.50 L371.90 189.50 L372.88 189.50 L373.85 189.50 L374.82 189.50 L375.80 189.50 L376.77 189.50 L377.75 189.50 L378.73 189.50 L379.70 189.50 L380.68 189.50 L381.65 189.50 L382.62 189.50 L383.60 189.50 L384.57 189.50 L385.55 189.50 L386.52 189.50 L387.50 189.50 L388.48 189.50 L389.45 189.50 L390.43 189.50 L391.40 189.50 L392.38 189.50 L393.35 189.50 L394.32 189.50 L395.30 189.50 L396.27 189.50 L397.25 189.50 L398.23 189.50 L399.20 189.50 L400.18 189.50 L401.15 189.50 L402.12 189.50 L403.10 189.50 L404.07 189.50 L405.05 189.50 L406.02 189.50 L407.00 189.50 L407.98 189.50 L408.95 189.50 L409.93 189.50 L410.90 189.49 L411.88 189.49 L412.85 189.49 L413.82 189.49 L414.80 189.48 L415.77 189.48 L416.75 189.47 L417.73 189.46 L418.70 189.45 L419.68 189.43 L420.65 189.41 L421.62 189.39 L422.60 189.35 L423.57 189.31 L424.55 189.26 L425.52 189.20 L426.50 189.13 L427.48 189.03 L428.45 188.92 L429.43 188.78 L430.40 188.62 L431.38 188.42 L432.35 188.18 L433.32 187.89 L434.30 187.55 L435.27 187.15 L436.25 186.69 L437.23 186.14 L438.20 185.50 L439.17 184.77 L440.15 183.93 L441.12 182.96 L442.10 181.87 L443.07 180.63 L444.05 179.24 L445.02 177.67 L446.00 175.94 L446.98 174.02 L447.95 171.90 L448.93 169.59 L449.90 167.07 L450.88 164.35 L451.85 161.42 L452.82 158.30 L453.80 154.98 L454.77 151.48 L455.75 147.81 L456.73 143.99 L457.70 140.05 L458.68 136.00 L459.65 131.89 L460.62 127.73 L461.60 123.58 L462.58 119.45 L463.55 115.41 L464.52 111.48 L465.50 107.71 L466.48 104.15 L467.45 100.82 L468.42 97.79 L469.40 95.07 L470.38 92.71 L471.35 90.73 L472.32 89.16 L473.30 88.03 L474.27 87.34 L475.25 87.11 L476.23 87.31 L477.20 87.91 L478.18 88.90 L479.15 90.26 L480.12 91.99 L481.10 94.07 L482.08 96.46 L483.05 99.15 L484.02 102.10 L485.00 105.28 L485.98 108.66 L486.95 112.22 L487.92 115.90 L488.90 119.68 L489.88 123.52 L490.85 127.40 L491.82 131.28 L492.80 135.12 L493.77 138.91 L494.75 142.62 L495.73 146.23 L496.70 149.72 L497.68 153.06 L498.65 156.26 L499.62 159.29 L500.60 162.16 L501.57 164.85 L502.55 167.36 L503.52 169.69 L504.50 171.85 L505.48 173.83 L506.45 175.64 L507.43 177.30 L508.40 178.79 L509.38 180.14 L510.35 181.35 L511.33 182.44 L512.30 183.40 L513.27 184.25 L514.25 185.00 L515.23 185.66 L516.20 186.23 L517.17 186.73 L518.15 187.17 L519.12 187.54 L520.10 187.86 L521.08 188.13 L522.05 188.36 L523.02 188.56 L524.00 188.72 L524.00 189.50Z" fill="rgba(255,0,0,0.5)" stroke="none"/>
<path d="M330.00 189.50H407.00" stroke="rgba(150,40,40,0.75)" stroke-width="0.9" fill="none"/>
<path d="M416.75 189.50H519.12" stroke="rgba(60,80,150,0.8)" stroke-width="0.9" fill="none"/>
</g>
<text x="317.45" y="194.00" text-anchor="end" class="tk">0</text>
<text x="317.45" y="157.25" text-anchor="end" class="tk">0.01</text>
<text x="317.45" y="120.50" text-anchor="end" class="tk">0.02</text>
<text x="317.45" y="83.75" text-anchor="end" class="tk">0.03</text>
<text x="317.45" y="47.00" text-anchor="end" class="tk">0.04</text>
<text x="327.55" y="208.20" text-anchor="middle" class="tk">0</text>
<text x="368.90" y="208.20" text-anchor="middle" class="tk">0.2</text>
<text x="407.90" y="208.20" text-anchor="middle" class="tk">0.4</text>
<text x="446.90" y="208.20" text-anchor="middle" class="tk">0.6</text>
<text x="485.90" y="208.20" text-anchor="middle" class="tk">0.8</text>
<text x="523.70" y="208.20" text-anchor="middle" class="tk">1</text>
<text transform="translate(284.90 105.80) rotate(-90)" text-anchor="middle" class="lb">probability</text>
<text x="316.10" y="18.60" class="tt" font-size="12">+200 nM Rpn13<tspan font-size="7.92" dy="-4.0">NTD</tspan><tspan dy="4.0">,</tspan><tspan font-size="12.3" dx="-0.6"> +300 pM K48-diUb</tspan></text>
<text x="274.00" y="14.20" class="lt">b</text>
<g class="lg" style="fill:#0000ff"><text x="336.30" y="41.50" font-style="italic">P</text><text x="344.20" y="41.50" class="sb">low</text><text x="357.50" y="41.50">=10.2 ± 0.3%</text></g>
<g class="lg" style="fill:#00ffff"><text x="336.30" y="58.75" font-style="italic">P</text><text x="344.20" y="58.75" class="sb">medium</text><text x="375.60" y="58.75">=37.8 ± 0.7%</text></g>
<g class="lg" style="fill:#ff0000"><text x="336.30" y="76.00" font-style="italic">P</text><text x="344.20" y="76.00" class="sb">high</text><text x="361.10" y="76.00">=52.0 ± 0.6%</text></g>
</g>
<g id="panel-c">
<g clip-path="url(#cc)">
<path d="M49.56 416.90h4.89M54.44 416.40h4.89M59.33 415.50h4.89M64.22 413.50h4.89M69.11 411.50h4.89M73.99 410.60h4.89M78.88 412.90h4.89M83.77 410.90h4.89M88.66 408.50h4.89M93.54 410.90h4.89M98.43 411.50h4.89M103.32 406.70h4.89M108.21 407.64h4.89M113.09 405.90h4.89M117.98 404.50h4.89M122.87 398.50h4.89M127.76 400.85h4.89M132.64 401.40h4.89M137.53 388.30h4.89M142.42 391.50h4.89M147.31 383.60h4.89M152.19 383.60h4.89M157.08 375.40h4.89M161.97 365.90h4.89M166.86 358.30h4.89M171.74 350.80h4.89M176.63 327.10h4.89M181.52 298.40h4.89M186.41 319.50h4.89M191.29 280.40h4.89M196.18 297.10h4.89M201.07 287.40h4.89M205.96 307.40h4.89M210.84 342.90h4.89M215.73 359.30h4.89M220.62 384.30h4.89M225.51 405.10h4.89M230.39 414.60h4.89M235.28 416.50h4.89M240.17 416.90h4.89M245.06 417.10h4.89M49.56 417.20V416.90M54.44 417.20V416.40M59.33 417.20V415.50M64.22 417.20V413.50M69.11 417.20V411.50M73.99 417.20V410.60M78.88 417.20V410.60M83.77 417.20V410.90M88.66 417.20V408.50M93.54 417.20V408.50M98.43 417.20V410.90M103.32 417.20V406.70M108.21 417.20V406.70M113.09 417.20V405.90M117.98 417.20V404.50M122.87 417.20V398.50M127.76 417.20V398.50M132.64 417.20V400.85M137.53 417.20V388.30M142.42 417.20V388.30M147.31 417.20V383.60M152.19 417.20V383.60M157.08 417.20V375.40M161.97 417.20V365.90M166.86 417.20V358.30M171.74 417.20V350.80M176.63 417.20V327.10M181.52 417.20V298.40M186.41 417.20V298.40M191.29 417.20V280.40M196.18 417.20V280.40M201.07 417.20V287.40M205.96 417.20V287.40M210.84 417.20V307.40M215.73 417.20V342.90M220.62 417.20V359.30M225.51 417.20V384.30M230.39 417.20V405.10M235.28 417.20V414.60M240.17 417.20V416.50M245.06 417.20V416.90M249.94 417.20V417.10" fill="none" stroke="#1a1a1a" stroke-width="0.6" stroke-linecap="square"/>
<path d="M52.00 416.86 L52.98 416.81 L53.95 416.75 L54.93 416.68 L55.91 416.61 L56.89 416.53 L57.87 416.43 L58.84 416.33 L59.82 416.22 L60.80 416.10 L61.77 415.96 L62.75 415.82 L63.73 415.66 L64.71 415.49 L65.69 415.31 L66.66 415.12 L67.64 414.91 L68.62 414.70 L69.59 414.47 L70.57 414.23 L71.55 413.98 L72.53 413.72 L73.50 413.45 L74.48 413.17 L75.46 412.89 L76.44 412.61 L77.41 412.32 L78.39 412.02 L79.37 411.73 L80.35 411.44 L81.33 411.16 L82.30 410.88 L83.28 410.61 L84.26 410.35 L85.23 410.10 L86.21 409.86 L87.19 409.64 L88.17 409.43 L89.15 409.24 L90.12 409.07 L91.10 408.92 L92.08 408.79 L93.06 408.68 L94.03 408.58 L95.01 408.51 L95.99 408.44 L96.97 408.38 L97.94 408.32 L98.92 408.27 L99.90 408.23 L100.88 408.19 L101.85 408.15 L102.83 408.11 L103.81 408.08 L104.78 408.03 L105.76 407.99 L106.74 407.94 L107.72 407.88 L108.69 407.81 L109.67 407.73 L110.65 407.64 L111.63 407.53 L112.60 407.41 L113.58 407.26 L114.56 407.10 L115.54 406.92 L116.52 406.71 L117.49 406.48 L118.47 406.22 L119.45 405.94 L120.42 405.62 L121.40 405.28 L122.38 404.91 L123.36 404.51 L124.33 404.08 L125.31 403.62 L126.29 403.12 L127.27 402.60 L128.25 402.05 L129.22 401.47 L130.20 400.85 L131.18 400.22 L132.16 399.55 L133.13 398.86 L134.11 398.15 L135.09 397.41 L136.06 396.66 L137.04 395.89 L138.02 395.10 L139.00 394.30 L139.98 393.49 L140.95 392.67 L141.93 391.84 L142.91 391.01 L143.88 390.18 L144.86 389.35 L145.84 388.52 L146.82 387.70 L147.80 386.88 L148.77 386.08 L149.75 385.28 L150.73 384.49 L151.70 383.71 L152.68 382.94 L153.66 382.18 L154.64 381.42 L155.62 380.67 L156.59 379.91 L157.57 379.15 L158.55 378.37 L159.53 377.57 L160.50 376.74 L161.48 375.88 L162.46 374.96 L163.44 373.99 L164.41 372.94 L165.39 371.80 L166.37 370.56 L167.34 369.22 L168.32 367.75 L169.30 366.14 L170.28 364.38 L171.25 362.46 L172.23 360.35 L173.21 358.06 L174.19 355.56 L175.17 352.86 L176.14 349.95 L177.12 346.84 L178.10 343.52 L179.07 340.01 L180.05 336.32 L181.03 332.46 L182.01 328.47 L182.99 324.36 L183.96 320.17 L184.94 315.94 L185.92 311.70 L186.89 307.51 L187.87 303.41 L188.85 299.44 L189.83 295.67 L190.81 292.13 L191.78 288.89 L192.76 285.98 L193.74 283.46 L194.72 281.36 L195.69 279.73 L196.67 278.59 L197.65 277.98 L198.62 277.90 L199.60 278.38 L200.58 279.37 L201.56 280.82 L202.53 282.72 L203.51 285.06 L204.49 287.82 L205.47 290.97 L206.44 294.49 L207.42 298.34 L208.40 302.49 L209.38 306.90 L210.36 311.52 L211.33 316.33 L212.31 321.28 L213.29 326.32 L214.26 331.42 L215.24 336.54 L216.22 341.63 L217.20 346.67 L218.17 351.62 L219.15 356.45 L220.13 361.14 L221.11 365.67 L222.09 370.01 L223.06 374.14 L224.04 378.06 L225.02 381.76 L226.00 385.24 L226.97 388.48 L227.95 391.49 L228.93 394.27 L229.91 396.83 L230.88 399.17 L231.86 401.30 L232.84 403.23 L233.81 404.98 L234.79 406.55 L235.77 407.95 L236.75 409.19 L237.72 410.30 L238.70 411.27 L239.68 412.13 L240.66 412.88 L241.63 413.53 L242.61 414.09 L243.59 414.58 L244.57 415.00 L245.54 415.36 L246.52 415.66 L247.50 415.92" fill="none" stroke="#a8a8a8" stroke-width="2.5" stroke-linejoin="round"/>
</g>
<path d="M52.00 417.20V251.50M48.20 251.50H247.50V417.20H52.00" fill="none" stroke="#0a0a0a" stroke-width="1.35" stroke-linecap="square"/>
<path d="M52.00 417.20h-6.5M52.00 398.82h-3.6M52.00 380.45h-6.5M52.00 362.07h-3.6M52.00 343.70h-6.5M52.00 325.32h-3.6M52.00 306.95h-6.5M52.00 288.57h-3.6M52.00 270.20h-6.5M52.00 417.20v8.7M71.55 417.20v4.5M91.10 417.20v8.7M110.65 417.20v4.5M130.20 417.20v8.7M149.75 417.20v4.5M169.30 417.20v8.7M188.85 417.20v4.5M208.40 417.20v8.7M227.95 417.20v4.5M247.50 417.20v8.7" fill="none" stroke="#0a0a0a" stroke-width="1.1"/>
<g clip-path="url(#cc)">
<path d="M52.00 417.20 L52.00 416.86 L52.98 416.81 L53.95 416.75 L54.93 416.69 L55.91 416.61 L56.89 416.53 L57.87 416.44 L58.84 416.34 L59.82 416.23 L60.80 416.11 L61.77 415.97 L62.75 415.83 L63.73 415.68 L64.71 415.51 L65.69 415.33 L66.66 415.14 L67.64 414.94 L68.62 414.72 L69.59 414.50 L70.57 414.26 L71.55 414.02 L72.53 413.76 L73.50 413.50 L74.48 413.24 L75.46 412.96 L76.44 412.69 L77.41 412.41 L78.39 412.13 L79.37 411.85 L80.35 411.58 L81.33 411.31 L82.30 411.06 L83.28 410.81 L84.26 410.57 L85.23 410.35 L86.21 410.15 L87.19 409.96 L88.17 409.80 L89.15 409.65 L90.12 409.53 L91.10 409.43 L92.08 409.36 L93.06 409.32 L94.03 409.30 L95.01 409.30 L95.99 409.33 L96.97 409.36 L97.94 409.42 L98.92 409.48 L99.90 409.57 L100.88 409.67 L101.85 409.78 L102.83 409.91 L103.81 410.05 L104.78 410.20 L105.76 410.36 L106.74 410.53 L107.72 410.71 L108.69 410.90 L109.67 411.09 L110.65 411.30 L111.63 411.50 L112.60 411.72 L113.58 411.93 L114.56 412.15 L115.54 412.36 L116.52 412.58 L117.49 412.80 L118.47 413.01 L119.45 413.23 L120.42 413.44 L121.40 413.64 L122.38 413.85 L123.36 414.04 L124.33 414.23 L125.31 414.42 L126.29 414.60 L127.27 414.77 L128.25 414.94 L129.22 415.10 L130.20 415.25 L131.18 415.39 L132.16 415.53 L133.13 415.66 L134.11 415.78 L135.09 415.90 L136.06 416.01 L137.04 416.11 L138.02 416.21 L139.00 416.30 L139.98 416.38 L140.95 416.45 L141.93 416.53 L142.91 416.59 L143.88 416.65 L144.86 416.71 L145.84 416.76 L146.82 416.80 L147.80 416.84 L148.77 416.88 L149.75 416.92 L150.73 416.95 L151.70 416.98 L152.68 417.00 L153.66 417.03 L154.64 417.05 L155.62 417.07 L156.59 417.08 L157.57 417.10 L158.55 417.11 L159.53 417.12 L160.50 417.13 L161.48 417.14 L162.46 417.15 L163.44 417.16 L164.41 417.16 L165.39 417.17 L166.37 417.17 L167.34 417.18 L168.32 417.18 L169.30 417.18 L170.28 417.18 L171.25 417.19 L172.23 417.19 L173.21 417.19 L174.19 417.19 L175.17 417.19 L176.14 417.19 L177.12 417.20 L178.10 417.20 L179.07 417.20 L180.05 417.20 L181.03 417.20 L182.01 417.20 L182.99 417.20 L183.96 417.20 L184.94 417.20 L185.92 417.20 L186.89 417.20 L187.87 417.20 L188.85 417.20 L189.83 417.20 L190.81 417.20 L191.78 417.20 L192.76 417.20 L193.74 417.20 L194.72 417.20 L195.69 417.20 L196.67 417.20 L197.65 417.20 L198.62 417.20 L199.60 417.20 L200.58 417.20 L201.56 417.20 L202.53 417.20 L203.51 417.20 L204.49 417.20 L205.47 417.20 L206.44 417.20 L207.42 417.20 L208.40 417.20 L209.38 417.20 L210.36 417.20 L211.33 417.20 L212.31 417.20 L213.29 417.20 L214.26 417.20 L215.24 417.20 L216.22 417.20 L217.20 417.20 L218.17 417.20 L219.15 417.20 L220.13 417.20 L221.11 417.20 L222.09 417.20 L223.06 417.20 L224.04 417.20 L225.02 417.20 L226.00 417.20 L226.97 417.20 L227.95 417.20 L228.93 417.20 L229.91 417.20 L230.88 417.20 L231.86 417.20 L232.84 417.20 L233.81 417.20 L234.79 417.20 L235.77 417.20 L236.75 417.20 L237.72 417.20 L238.70 417.20 L239.68 417.20 L240.66 417.20 L241.63 417.20 L242.61 417.20 L243.59 417.20 L244.57 417.20 L245.54 417.20 L246.52 417.20 L247.50 417.20 L247.50 417.20Z" fill="rgba(0,0,255,0.5)" stroke="none"/>
<path d="M52.00 417.20 L52.00 417.20 L52.98 417.20 L53.95 417.20 L54.93 417.20 L55.91 417.20 L56.89 417.20 L57.87 417.20 L58.84 417.19 L59.82 417.19 L60.80 417.19 L61.77 417.19 L62.75 417.19 L63.73 417.19 L64.71 417.19 L65.69 417.18 L66.66 417.18 L67.64 417.18 L68.62 417.17 L69.59 417.17 L70.57 417.17 L71.55 417.16 L72.53 417.15 L73.50 417.15 L74.48 417.14 L75.46 417.13 L76.44 417.12 L77.41 417.11 L78.39 417.10 L79.37 417.08 L80.35 417.06 L81.33 417.05 L82.30 417.02 L83.28 417.00 L84.26 416.97 L85.23 416.95 L86.21 416.91 L87.19 416.88 L88.17 416.84 L89.15 416.79 L90.12 416.74 L91.10 416.69 L92.08 416.62 L93.06 416.56 L94.03 416.48 L95.01 416.40 L95.99 416.31 L96.97 416.21 L97.94 416.11 L98.92 415.99 L99.90 415.86 L100.88 415.72 L101.85 415.57 L102.83 415.41 L103.81 415.23 L104.78 415.04 L105.76 414.83 L106.74 414.61 L107.72 414.37 L108.69 414.11 L109.67 413.84 L110.65 413.54 L111.63 413.23 L112.60 412.89 L113.58 412.53 L114.56 412.16 L115.54 411.75 L116.52 411.33 L117.49 410.88 L118.47 410.41 L119.45 409.91 L120.42 409.39 L121.40 408.84 L122.38 408.27 L123.36 407.67 L124.33 407.04 L125.31 406.40 L126.29 405.72 L127.27 405.03 L128.25 404.31 L129.22 403.57 L130.20 402.81 L131.18 402.02 L132.16 401.22 L133.13 400.40 L134.11 399.57 L135.09 398.72 L136.06 397.86 L137.04 396.98 L138.02 396.10 L139.00 395.22 L139.98 394.33 L140.95 393.44 L141.93 392.55 L142.91 391.67 L143.88 390.79 L144.86 389.93 L145.84 389.08 L146.82 388.24 L147.80 387.42 L148.77 386.63 L149.75 385.86 L150.73 385.12 L151.70 384.41 L152.68 383.73 L153.66 383.09 L154.64 382.49 L155.62 381.93 L156.59 381.42 L157.57 380.95 L158.55 380.53 L159.53 380.16 L160.50 379.84 L161.48 379.57 L162.46 379.36 L163.44 379.20 L164.41 379.10 L165.39 379.06 L166.37 379.07 L167.34 379.15 L168.32 379.29 L169.30 379.49 L170.28 379.75 L171.25 380.08 L172.23 380.46 L173.21 380.91 L174.19 381.40 L175.17 381.95 L176.14 382.55 L177.12 383.20 L178.10 383.89 L179.07 384.62 L180.05 385.38 L181.03 386.19 L182.01 387.02 L182.99 387.88 L183.96 388.76 L184.94 389.66 L185.92 390.58 L186.89 391.51 L187.87 392.45 L188.85 393.40 L189.83 394.35 L190.81 395.29 L191.78 396.24 L192.76 397.17 L193.74 398.10 L194.72 399.01 L195.69 399.91 L196.67 400.80 L197.65 401.66 L198.62 402.50 L199.60 403.32 L200.58 404.12 L201.56 404.89 L202.53 405.64 L203.51 406.36 L204.49 407.05 L205.47 407.71 L206.44 408.34 L207.42 408.95 L208.40 409.53 L209.38 410.08 L210.36 410.60 L211.33 411.09 L212.31 411.56 L213.29 411.99 L214.26 412.41 L215.24 412.80 L216.22 413.16 L217.20 413.50 L218.17 413.81 L219.15 414.11 L220.13 414.38 L221.11 414.64 L222.09 414.87 L223.06 415.09 L224.04 415.29 L225.02 415.47 L226.00 415.64 L226.97 415.80 L227.95 415.94 L228.93 416.07 L229.91 416.18 L230.88 416.29 L231.86 416.39 L232.84 416.48 L233.81 416.56 L234.79 416.63 L235.77 416.69 L236.75 416.75 L237.72 416.80 L238.70 416.85 L239.68 416.89 L240.66 416.93 L241.63 416.96 L242.61 416.99 L243.59 417.02 L244.57 417.04 L245.54 417.06 L246.52 417.08 L247.50 417.09 L247.50 417.20Z" fill="rgba(0,255,255,0.5)" stroke="none"/>
<path d="M52.00 417.20 L52.00 417.20 L52.98 417.20 L53.95 417.20 L54.93 417.20 L55.91 417.20 L56.89 417.20 L57.87 417.20 L58.84 417.20 L59.82 417.20 L60.80 417.20 L61.77 417.20 L62.75 417.20 L63.73 417.20 L64.71 417.20 L65.69 417.20 L66.66 417.20 L67.64 417.20 L68.62 417.20 L69.59 417.20 L70.57 417.20 L71.55 417.20 L72.53 417.20 L73.50 417.20 L74.48 417.20 L75.46 417.20 L76.44 417.20 L77.41 417.20 L78.39 417.20 L79.37 417.20 L80.35 417.20 L81.33 417.20 L82.30 417.20 L83.28 417.20 L84.26 417.20 L85.23 417.20 L86.21 417.20 L87.19 417.20 L88.17 417.20 L89.15 417.20 L90.12 417.20 L91.10 417.20 L92.08 417.20 L93.06 417.20 L94.03 417.20 L95.01 417.20 L95.99 417.20 L96.97 417.20 L97.94 417.20 L98.92 417.20 L99.90 417.20 L100.88 417.20 L101.85 417.20 L102.83 417.20 L103.81 417.20 L104.78 417.20 L105.76 417.20 L106.74 417.20 L107.72 417.20 L108.69 417.20 L109.67 417.20 L110.65 417.20 L111.63 417.20 L112.60 417.20 L113.58 417.20 L114.56 417.20 L115.54 417.20 L116.52 417.20 L117.49 417.20 L118.47 417.20 L119.45 417.20 L120.42 417.20 L121.40 417.20 L122.38 417.20 L123.36 417.20 L124.33 417.20 L125.31 417.20 L126.29 417.20 L127.27 417.20 L128.25 417.20 L129.22 417.20 L130.20 417.20 L131.18 417.20 L132.16 417.20 L133.13 417.20 L134.11 417.20 L135.09 417.19 L136.06 417.19 L137.04 417.19 L138.02 417.19 L139.00 417.18 L139.98 417.18 L140.95 417.17 L141.93 417.16 L142.91 417.15 L143.88 417.13 L144.86 417.11 L145.84 417.09 L146.82 417.06 L147.80 417.02 L148.77 416.97 L149.75 416.90 L150.73 416.82 L151.70 416.73 L152.68 416.61 L153.66 416.46 L154.64 416.29 L155.62 416.07 L156.59 415.81 L157.57 415.50 L158.55 415.13 L159.53 414.69 L160.50 414.17 L161.48 413.57 L162.46 412.85 L163.44 412.03 L164.41 411.07 L165.39 409.98 L166.37 408.72 L167.34 407.30 L168.32 405.68 L169.30 403.87 L170.28 401.84 L171.25 399.59 L172.23 397.10 L173.21 394.36 L174.19 391.37 L175.17 388.12 L176.14 384.61 L177.12 380.85 L178.10 376.84 L179.07 372.60 L180.05 368.14 L181.03 363.48 L182.01 358.65 L182.99 353.68 L183.96 348.61 L184.94 343.48 L185.92 338.32 L186.89 333.20 L187.87 328.15 L188.85 323.24 L189.83 318.52 L190.81 314.04 L191.78 309.85 L192.76 306.01 L193.74 302.56 L194.72 299.55 L195.69 297.02 L196.67 295.00 L197.65 293.52 L198.62 292.60 L199.60 292.25 L200.58 292.45 L201.56 293.13 L202.53 294.29 L203.51 295.91 L204.49 297.97 L205.47 300.46 L206.44 303.35 L207.42 306.59 L208.40 310.16 L209.38 314.02 L210.36 318.13 L211.33 322.44 L212.31 326.92 L213.29 331.53 L214.26 336.21 L215.24 340.94 L216.22 345.67 L217.20 350.37 L218.17 355.01 L219.15 359.55 L220.13 363.96 L221.11 368.23 L222.09 372.33 L223.06 376.25 L224.04 379.98 L225.02 383.49 L226.00 386.79 L226.97 389.88 L227.95 392.75 L228.93 395.40 L229.91 397.84 L230.88 400.08 L231.86 402.11 L232.84 403.96 L233.81 405.62 L234.79 407.12 L235.77 408.45 L236.75 409.64 L237.72 410.70 L238.70 411.62 L239.68 412.44 L240.66 413.15 L241.63 413.77 L242.61 414.30 L243.59 414.76 L244.57 415.16 L245.54 415.50 L246.52 415.79 L247.50 416.03 L247.50 417.20Z" fill="rgba(255,0,0,0.5)" stroke="none"/>
<path d="M53.00 417.20H130.20" stroke="rgba(150,40,40,0.75)" stroke-width="0.9" fill="none"/>
<path d="M139.98 417.20H242.61" stroke="rgba(60,80,150,0.8)" stroke-width="0.9" fill="none"/>
</g>
<text x="42.05" y="421.70" text-anchor="end" class="tk">0</text>
<text x="42.05" y="384.95" text-anchor="end" class="tk">0.01</text>
<text x="42.05" y="348.20" text-anchor="end" class="tk">0.02</text>
<text x="42.05" y="311.45" text-anchor="end" class="tk">0.03</text>
<text x="42.05" y="274.70" text-anchor="end" class="tk">0.04</text>
<text x="51.70" y="437.70" text-anchor="middle" class="tk">0</text>
<text x="91.30" y="437.70" text-anchor="middle" class="tk">0.2</text>
<text x="130.40" y="437.70" text-anchor="middle" class="tk">0.4</text>
<text x="169.50" y="437.70" text-anchor="middle" class="tk">0.6</text>
<text x="208.60" y="437.70" text-anchor="middle" class="tk">0.8</text>
<text x="247.40" y="437.70" text-anchor="middle" class="tk">1</text>
<text transform="translate(10.00 338.30) rotate(-90)" text-anchor="middle" class="lb">probability</text>
<text x="57.80" y="248.10" class="tt" font-size="12.1">+200 nM Rpn13<tspan font-size="7.99" dy="-4.0">NTD</tspan><tspan dy="4.0">,</tspan><tspan font-size="12.3" dx="-0.9"> +150 pM Ub</tspan></text>
<text x="0.30" y="244.80" class="lt">c</text>
<g class="lg" style="fill:#0000ff"><text x="59.00" y="269.30" font-style="italic">P</text><text x="66.90" y="269.30" class="sb">low</text><text x="80.20" y="269.30">=5.5 ± 0.3%</text></g>
<g class="lg" style="fill:#00ffff"><text x="59.00" y="286.55" font-style="italic">P</text><text x="66.90" y="286.55" class="sb">medium</text><text x="98.30" y="286.55">=31.6 ± 0.5%</text></g>
<g class="lg" style="fill:#ff0000"><text x="59.00" y="303.80" font-style="italic">P</text><text x="66.90" y="303.80" class="sb">high</text><text x="83.80" y="303.80">=62.9 ± 0.2%</text></g>
</g>
<g id="panel-d">
<g clip-path="url(#cd)">
<path d="M326.56 416.20h4.88M331.44 415.50h4.88M336.32 414.20h4.88M341.20 412.20h4.88M346.08 410.50h4.88M350.96 410.50h4.88M355.84 413.30h4.88M360.72 412.20h4.88M365.60 410.20h4.88M370.48 411.60h4.88M375.36 409.30h4.88M380.24 406.30h4.88M385.12 405.60h4.88M390.00 407.00h4.88M394.88 404.80h4.88M399.76 393.30h4.88M404.64 400.06h4.88M409.52 395.50h4.88M414.40 393.50h4.88M419.28 390.90h4.88M424.16 384.60h4.88M429.04 384.30h4.88M433.92 373.50h4.88M438.80 372.50h4.88M443.68 350.40h4.88M448.56 352.70h4.88M453.44 331.70h4.88M458.32 309.70h4.88M463.20 320.50h4.88M468.08 274.20h4.88M472.96 294.20h4.88M477.84 284.30h4.88M482.72 305.40h4.88M487.60 342.20h4.88M492.48 367.20h4.88M497.36 384.30h4.88M502.24 403.40h4.88M507.12 415.20h4.88M512.00 416.40h4.88M516.88 416.80h4.88M521.76 416.90h4.88M326.56 417.00V416.20M331.44 417.00V415.50M336.32 417.00V414.20M341.20 417.00V412.20M346.08 417.00V410.50M350.96 417.00V410.50M355.84 417.00V410.50M360.72 417.00V412.20M365.60 417.00V410.20M370.48 417.00V410.20M375.36 417.00V409.30M380.24 417.00V406.30M385.12 417.00V405.60M390.00 417.00V405.60M394.88 417.00V404.80M399.76 417.00V393.30M404.64 417.00V393.30M409.52 417.00V395.50M414.40 417.00V393.50M419.28 417.00V390.90M424.16 417.00V384.60M429.04 417.00V384.30M433.92 417.00V373.50M438.80 417.00V372.50M443.68 417.00V350.40M448.56 417.00V350.40M453.44 417.00V331.70M458.32 417.00V309.70M463.20 417.00V309.70M468.08 417.00V274.20M472.96 417.00V274.20M477.84 417.00V284.30M482.72 417.00V284.30M487.60 417.00V305.40M492.48 417.00V342.20M497.36 417.00V367.20M502.24 417.00V384.30M507.12 417.00V403.40M512.00 417.00V415.20M516.88 417.00V416.40M521.76 417.00V416.80M526.64 417.00V416.90" fill="none" stroke="#1a1a1a" stroke-width="0.6" stroke-linecap="square"/>
<path d="M329.00 416.05 L329.98 415.97 L330.95 415.89 L331.93 415.80 L332.90 415.70 L333.88 415.60 L334.86 415.49 L335.83 415.37 L336.81 415.25 L337.78 415.13 L338.76 415.00 L339.74 414.86 L340.71 414.72 L341.69 414.57 L342.66 414.41 L343.64 414.25 L344.62 414.09 L345.59 413.92 L346.57 413.74 L347.54 413.56 L348.52 413.38 L349.50 413.19 L350.47 412.99 L351.45 412.80 L352.42 412.60 L353.40 412.40 L354.38 412.19 L355.35 411.99 L356.33 411.78 L357.30 411.58 L358.28 411.37 L359.26 411.16 L360.23 410.96 L361.21 410.75 L362.18 410.55 L363.16 410.35 L364.14 410.15 L365.11 409.95 L366.09 409.76 L367.06 409.58 L368.04 409.39 L369.02 409.21 L369.99 409.03 L370.97 408.86 L371.94 408.70 L372.92 408.53 L373.90 408.37 L374.87 408.22 L375.85 408.06 L376.82 407.92 L377.80 407.77 L378.78 407.62 L379.75 407.48 L380.73 407.34 L381.70 407.20 L382.68 407.06 L383.66 406.93 L384.63 406.79 L385.61 406.65 L386.58 406.51 L387.56 406.37 L388.54 406.22 L389.51 406.06 L390.49 405.89 L391.46 405.71 L392.44 405.51 L393.42 405.31 L394.39 405.08 L395.37 404.84 L396.34 404.58 L397.32 404.29 L398.30 403.99 L399.27 403.66 L400.25 403.30 L401.22 402.92 L402.20 402.51 L403.18 402.08 L404.15 401.62 L405.13 401.13 L406.10 400.61 L407.08 400.06 L408.06 399.49 L409.03 398.89 L410.01 398.27 L410.98 397.62 L411.96 396.94 L412.94 396.25 L413.91 395.53 L414.89 394.80 L415.86 394.05 L416.84 393.28 L417.82 392.51 L418.79 391.72 L419.77 390.93 L420.74 390.14 L421.72 389.34 L422.70 388.54 L423.67 387.75 L424.65 386.96 L425.62 386.17 L426.60 385.39 L427.58 384.62 L428.55 383.86 L429.53 383.10 L430.50 382.35 L431.48 381.61 L432.46 380.86 L433.43 380.11 L434.41 379.36 L435.38 378.59 L436.36 377.79 L437.34 376.97 L438.31 376.11 L439.29 375.20 L440.26 374.23 L441.24 373.19 L442.22 372.06 L443.19 370.83 L444.17 369.48 L445.14 368.01 L446.12 366.40 L447.10 364.62 L448.07 362.68 L449.05 360.56 L450.02 358.24 L451.00 355.72 L451.98 353.00 L452.95 350.06 L453.93 346.93 L454.90 343.58 L455.88 340.05 L456.86 336.34 L457.83 332.46 L458.81 328.45 L459.78 324.33 L460.76 320.14 L461.74 315.90 L462.71 311.66 L463.69 307.47 L464.66 303.37 L465.64 299.41 L466.62 295.64 L467.59 292.11 L468.57 288.87 L469.54 285.97 L470.52 283.45 L471.50 281.35 L472.47 279.71 L473.45 278.56 L474.42 277.93 L475.40 277.84 L476.38 278.28 L477.35 279.26 L478.33 280.72 L479.30 282.66 L480.28 285.06 L481.26 287.90 L482.23 291.16 L483.21 294.80 L484.18 298.78 L485.16 303.08 L486.14 307.64 L487.11 312.43 L488.09 317.40 L489.06 322.50 L490.04 327.69 L491.02 332.93 L491.99 338.18 L492.97 343.38 L493.94 348.52 L494.92 353.55 L495.90 358.44 L496.87 363.18 L497.85 367.72 L498.82 372.06 L499.80 376.18 L500.78 380.07 L501.75 383.73 L502.73 387.14 L503.70 390.31 L504.68 393.23 L505.66 395.92 L506.63 398.38 L507.61 400.62 L508.58 402.64 L509.56 404.47 L510.54 406.10 L511.51 407.56 L512.49 408.86 L513.46 410.00 L514.44 411.01 L515.42 411.89 L516.39 412.66 L517.37 413.33 L518.34 413.91 L519.32 414.40 L520.30 414.83 L521.27 415.19 L522.25 415.49 L523.22 415.75 L524.20 415.97" fill="none" stroke="#a8a8a8" stroke-width="2.5" stroke-linejoin="round"/>
</g>
<path d="M329.00 417.00V251.50M325.20 251.50H524.20V417.00H329.00" fill="none" stroke="#0a0a0a" stroke-width="1.35" stroke-linecap="square"/>
<path d="M329.00 417.00h-6.5M329.00 398.62h-3.6M329.00 380.25h-6.5M329.00 361.88h-3.6M329.00 343.50h-6.5M329.00 325.12h-3.6M329.00 306.75h-6.5M329.00 288.38h-3.6M329.00 270.00h-6.5M329.00 417.00v8.55M348.52 417.00v4.6M368.04 417.00v8.55M387.56 417.00v4.6M407.08 417.00v8.55M426.60 417.00v4.6M446.12 417.00v8.55M465.64 417.00v4.6M485.16 417.00v8.55M504.68 417.00v4.6M524.20 417.00v8.55" fill="none" stroke="#0a0a0a" stroke-width="1.1"/>
<g clip-path="url(#cd)">
<path d="M329.00 417.00 L329.00 416.06 L329.98 415.97 L330.95 415.89 L331.93 415.80 L332.90 415.70 L333.88 415.60 L334.86 415.49 L335.83 415.38 L336.81 415.26 L337.78 415.13 L338.76 415.00 L339.74 414.87 L340.71 414.72 L341.69 414.58 L342.66 414.42 L343.64 414.26 L344.62 414.10 L345.59 413.93 L346.57 413.76 L347.54 413.58 L348.52 413.40 L349.50 413.21 L350.47 413.03 L351.45 412.84 L352.42 412.64 L353.40 412.45 L354.38 412.25 L355.35 412.06 L356.33 411.86 L357.30 411.67 L358.28 411.47 L359.26 411.28 L360.23 411.09 L361.21 410.91 L362.18 410.73 L363.16 410.55 L364.14 410.38 L365.11 410.21 L366.09 410.06 L367.06 409.91 L368.04 409.77 L369.02 409.64 L369.99 409.51 L370.97 409.40 L371.94 409.30 L372.92 409.21 L373.90 409.13 L374.87 409.06 L375.85 409.01 L376.82 408.97 L377.80 408.94 L378.78 408.92 L379.75 408.92 L380.73 408.93 L381.70 408.96 L382.68 409.00 L383.66 409.06 L384.63 409.14 L385.61 409.23 L386.58 409.34 L387.56 409.46 L388.54 409.59 L389.51 409.74 L390.49 409.90 L391.46 410.07 L392.44 410.25 L393.42 410.44 L394.39 410.63 L395.37 410.83 L396.34 411.04 L397.32 411.26 L398.30 411.48 L399.27 411.70 L400.25 411.92 L401.22 412.14 L402.20 412.36 L403.18 412.58 L404.15 412.80 L405.13 413.02 L406.10 413.24 L407.08 413.44 L408.06 413.65 L409.03 413.85 L410.01 414.04 L410.98 414.23 L411.96 414.41 L412.94 414.58 L413.91 414.75 L414.89 414.91 L415.86 415.06 L416.84 415.21 L417.82 415.35 L418.79 415.48 L419.77 415.60 L420.74 415.72 L421.72 415.82 L422.70 415.93 L423.67 416.02 L424.65 416.11 L425.62 416.19 L426.60 416.27 L427.58 416.34 L428.55 416.40 L429.53 416.46 L430.50 416.52 L431.48 416.57 L432.46 416.61 L433.43 416.65 L434.41 416.69 L435.38 416.72 L436.36 416.76 L437.34 416.78 L438.31 416.81 L439.29 416.83 L440.26 416.85 L441.24 416.87 L442.22 416.89 L443.19 416.90 L444.17 416.91 L445.14 416.92 L446.12 416.93 L447.10 416.94 L448.07 416.95 L449.05 416.96 L450.02 416.96 L451.00 416.97 L451.98 416.97 L452.95 416.98 L453.93 416.98 L454.90 416.98 L455.88 416.99 L456.86 416.99 L457.83 416.99 L458.81 416.99 L459.78 416.99 L460.76 416.99 L461.74 416.99 L462.71 417.00 L463.69 417.00 L464.66 417.00 L465.64 417.00 L466.62 417.00 L467.59 417.00 L468.57 417.00 L469.54 417.00 L470.52 417.00 L471.50 417.00 L472.47 417.00 L473.45 417.00 L474.42 417.00 L475.40 417.00 L476.38 417.00 L477.35 417.00 L478.33 417.00 L479.30 417.00 L480.28 417.00 L481.26 417.00 L482.23 417.00 L483.21 417.00 L484.18 417.00 L485.16 417.00 L486.14 417.00 L487.11 417.00 L488.09 417.00 L489.06 417.00 L490.04 417.00 L491.02 417.00 L491.99 417.00 L492.97 417.00 L493.94 417.00 L494.92 417.00 L495.90 417.00 L496.87 417.00 L497.85 417.00 L498.82 417.00 L499.80 417.00 L500.78 417.00 L501.75 417.00 L502.73 417.00 L503.70 417.00 L504.68 417.00 L505.66 417.00 L506.63 417.00 L507.61 417.00 L508.58 417.00 L509.56 417.00 L510.54 417.00 L511.51 417.00 L512.49 417.00 L513.46 417.00 L514.44 417.00 L515.42 417.00 L516.39 417.00 L517.37 417.00 L518.34 417.00 L519.32 417.00 L520.30 417.00 L521.27 417.00 L522.25 417.00 L523.22 417.00 L524.20 417.00 L524.20 417.00Z" fill="rgba(0,0,255,0.5)" stroke="none"/>
<path d="M329.00 417.00 L329.00 417.00 L329.98 417.00 L330.95 417.00 L331.93 417.00 L332.90 417.00 L333.88 417.00 L334.86 417.00 L335.83 417.00 L336.81 417.00 L337.78 417.00 L338.76 417.00 L339.74 416.99 L340.71 416.99 L341.69 416.99 L342.66 416.99 L343.64 416.99 L344.62 416.99 L345.59 416.98 L346.57 416.98 L347.54 416.98 L348.52 416.98 L349.50 416.97 L350.47 416.97 L351.45 416.96 L352.42 416.96 L353.40 416.95 L354.38 416.94 L355.35 416.93 L356.33 416.92 L357.30 416.91 L358.28 416.90 L359.26 416.88 L360.23 416.86 L361.21 416.85 L362.18 416.82 L363.16 416.80 L364.14 416.77 L365.11 416.74 L366.09 416.71 L367.06 416.67 L368.04 416.62 L369.02 416.58 L369.99 416.52 L370.97 416.46 L371.94 416.40 L372.92 416.32 L373.90 416.24 L374.87 416.15 L375.85 416.06 L376.82 415.95 L377.80 415.83 L378.78 415.70 L379.75 415.56 L380.73 415.41 L381.70 415.24 L382.68 415.06 L383.66 414.87 L384.63 414.65 L385.61 414.42 L386.58 414.18 L387.56 413.91 L388.54 413.62 L389.51 413.32 L390.49 412.99 L391.46 412.64 L392.44 412.27 L393.42 411.87 L394.39 411.45 L395.37 411.00 L396.34 410.53 L397.32 410.03 L398.30 409.51 L399.27 408.96 L400.25 408.38 L401.22 407.78 L402.20 407.15 L403.18 406.50 L404.15 405.81 L405.13 405.11 L406.10 404.38 L407.08 403.62 L408.06 402.84 L409.03 402.04 L410.01 401.23 L410.98 400.39 L411.96 399.54 L412.94 398.67 L413.91 397.79 L414.89 396.90 L415.86 396.00 L416.84 395.10 L417.82 394.19 L418.79 393.29 L419.77 392.39 L420.74 391.50 L421.72 390.61 L422.70 389.74 L423.67 388.89 L424.65 388.05 L425.62 387.24 L426.60 386.45 L427.58 385.69 L428.55 384.97 L429.53 384.28 L430.50 383.63 L431.48 383.02 L432.46 382.46 L433.43 381.94 L434.41 381.47 L435.38 381.05 L436.36 380.69 L437.34 380.38 L438.31 380.13 L439.29 379.93 L440.26 379.80 L441.24 379.72 L442.22 379.70 L443.19 379.74 L444.17 379.85 L445.14 380.01 L446.12 380.24 L447.10 380.52 L448.07 380.86 L449.05 381.26 L450.02 381.71 L451.00 382.22 L451.98 382.77 L452.95 383.37 L453.93 384.02 L454.90 384.70 L455.88 385.42 L456.86 386.18 L457.83 386.97 L458.81 387.79 L459.78 388.63 L460.76 389.49 L461.74 390.37 L462.71 391.27 L463.69 392.18 L464.66 393.09 L465.64 394.01 L466.62 394.93 L467.59 395.85 L468.57 396.76 L469.54 397.66 L470.52 398.56 L471.50 399.44 L472.47 400.31 L473.45 401.16 L474.42 402.00 L475.40 402.81 L476.38 403.60 L477.35 404.37 L478.33 405.11 L479.30 405.83 L480.28 406.52 L481.26 407.19 L482.23 407.82 L483.21 408.44 L484.18 409.02 L485.16 409.57 L486.14 410.10 L487.11 410.61 L488.09 411.08 L489.06 411.53 L490.04 411.95 L491.02 412.35 L491.99 412.72 L492.97 413.07 L493.94 413.40 L494.92 413.71 L495.90 413.99 L496.87 414.26 L497.85 414.50 L498.82 414.73 L499.80 414.94 L500.78 415.13 L501.75 415.31 L502.73 415.47 L503.70 415.62 L504.68 415.76 L505.66 415.89 L506.63 416.00 L507.61 416.11 L508.58 416.20 L509.56 416.29 L510.54 416.36 L511.51 416.43 L512.49 416.50 L513.46 416.55 L514.44 416.61 L515.42 416.65 L516.39 416.69 L517.37 416.73 L518.34 416.76 L519.32 416.79 L520.30 416.82 L521.27 416.84 L522.25 416.86 L523.22 416.88 L524.20 416.89 L524.20 417.00Z" fill="rgba(0,255,255,0.5)" stroke="none"/>
<path d="M329.00 417.00 L329.00 417.00 L329.98 417.00 L330.95 417.00 L331.93 417.00 L332.90 417.00 L333.88 417.00 L334.86 417.00 L335.83 417.00 L336.81 417.00 L337.78 417.00 L338.76 417.00 L339.74 417.00 L340.71 417.00 L341.69 417.00 L342.66 417.00 L343.64 417.00 L344.62 417.00 L345.59 417.00 L346.57 417.00 L347.54 417.00 L348.52 417.00 L349.50 417.00 L350.47 417.00 L351.45 417.00 L352.42 417.00 L353.40 417.00 L354.38 417.00 L355.35 417.00 L356.33 417.00 L357.30 417.00 L358.28 417.00 L359.26 417.00 L360.23 417.00 L361.21 417.00 L362.18 417.00 L363.16 417.00 L364.14 417.00 L365.11 417.00 L366.09 417.00 L367.06 417.00 L368.04 417.00 L369.02 417.00 L369.99 417.00 L370.97 417.00 L371.94 417.00 L372.92 417.00 L373.90 417.00 L374.87 417.00 L375.85 417.00 L376.82 417.00 L377.80 417.00 L378.78 417.00 L379.75 417.00 L380.73 417.00 L381.70 417.00 L382.68 417.00 L383.66 417.00 L384.63 417.00 L385.61 417.00 L386.58 417.00 L387.56 417.00 L388.54 417.00 L389.51 417.00 L390.49 417.00 L391.46 417.00 L392.44 417.00 L393.42 417.00 L394.39 417.00 L395.37 417.00 L396.34 417.00 L397.32 417.00 L398.30 417.00 L399.27 417.00 L400.25 417.00 L401.22 417.00 L402.20 417.00 L403.18 417.00 L404.15 417.00 L405.13 417.00 L406.10 417.00 L407.08 417.00 L408.06 417.00 L409.03 417.00 L410.01 417.00 L410.98 417.00 L411.96 416.99 L412.94 416.99 L413.91 416.99 L414.89 416.99 L415.86 416.98 L416.84 416.98 L417.82 416.97 L418.79 416.96 L419.77 416.94 L420.74 416.93 L421.72 416.90 L422.70 416.88 L423.67 416.84 L424.65 416.80 L425.62 416.74 L426.60 416.68 L427.58 416.59 L428.55 416.49 L429.53 416.36 L430.50 416.21 L431.48 416.02 L432.46 415.79 L433.43 415.52 L434.41 415.20 L435.38 414.81 L436.36 414.35 L437.34 413.81 L438.31 413.18 L439.29 412.44 L440.26 411.59 L441.24 410.60 L442.22 409.47 L443.19 408.18 L444.17 406.72 L445.14 405.07 L446.12 403.22 L447.10 401.16 L448.07 398.86 L449.05 396.34 L450.02 393.56 L451.00 390.53 L451.98 387.25 L452.95 383.72 L453.93 379.93 L454.90 375.90 L455.88 371.64 L456.86 367.17 L457.83 362.51 L458.81 357.68 L459.78 352.71 L460.76 347.65 L461.74 342.53 L462.71 337.40 L463.69 332.30 L464.66 327.28 L465.64 322.41 L466.62 317.72 L467.59 313.27 L468.57 309.11 L469.54 305.30 L470.52 301.89 L471.50 298.91 L472.47 296.40 L473.45 294.40 L474.42 292.94 L475.40 292.03 L476.38 291.69 L477.35 291.89 L478.33 292.61 L479.30 293.83 L480.28 295.54 L481.26 297.71 L482.23 300.33 L483.21 303.36 L484.18 306.76 L485.16 310.50 L486.14 314.54 L487.11 318.83 L488.09 323.32 L489.06 327.97 L490.04 332.74 L491.02 337.58 L491.99 342.45 L492.97 347.31 L493.94 352.12 L494.92 356.84 L495.90 361.45 L496.87 365.92 L497.85 370.22 L498.82 374.33 L499.80 378.24 L500.78 381.94 L501.75 385.42 L502.73 388.66 L503.70 391.68 L504.68 394.47 L505.66 397.03 L506.63 399.38 L507.61 401.51 L508.58 403.44 L509.56 405.18 L510.54 406.74 L511.51 408.13 L512.49 409.36 L513.46 410.45 L514.44 411.41 L515.42 412.24 L516.39 412.97 L517.37 413.60 L518.34 414.14 L519.32 414.61 L520.30 415.01 L521.27 415.35 L522.25 415.63 L523.22 415.88 L524.20 416.08 L524.20 417.00Z" fill="rgba(255,0,0,0.5)" stroke="none"/>
<path d="M330.00 417.00H407.08" stroke="rgba(150,40,40,0.75)" stroke-width="0.9" fill="none"/>
<path d="M416.84 417.00H519.32" stroke="rgba(60,80,150,0.8)" stroke-width="0.9" fill="none"/>
</g>
<text x="319.55" y="421.50" text-anchor="end" class="tk">0</text>
<text x="319.55" y="384.75" text-anchor="end" class="tk">0.01</text>
<text x="319.55" y="348.00" text-anchor="end" class="tk">0.02</text>
<text x="319.55" y="311.25" text-anchor="end" class="tk">0.03</text>
<text x="319.55" y="274.50" text-anchor="end" class="tk">0.04</text>
<text x="328.30" y="440.80" text-anchor="middle" class="tk">0</text>
<text x="367.24" y="440.80" text-anchor="middle" class="tk">0.2</text>
<text x="406.28" y="440.80" text-anchor="middle" class="tk">0.4</text>
<text x="445.32" y="440.80" text-anchor="middle" class="tk">0.6</text>
<text x="484.36" y="440.80" text-anchor="middle" class="tk">0.8</text>
<text x="523.60" y="440.80" text-anchor="middle" class="tk">1</text>
<text transform="translate(284.90 340.70) rotate(-90)" text-anchor="middle" class="lb">probability</text>
<text x="335.00" y="248.10" class="tt" font-size="12">+200 nM Rpn13<tspan font-size="7.92" dy="-4.0">NTD</tspan><tspan dy="4.0">,</tspan><tspan font-size="12.3" dx="-0.7"> +300 pM Ub</tspan></text>
<text x="274.20" y="244.80" class="lt">d</text>
<g class="lg" style="fill:#0000ff"><text x="336.00" y="269.00" font-style="italic">P</text><text x="343.90" y="269.00" class="sb">low</text><text x="357.20" y="269.00">=6.6 ± 0.2%</text></g>
<g class="lg" style="fill:#00ffff"><text x="336.00" y="286.25" font-style="italic">P</text><text x="343.90" y="286.25" class="sb">medium</text><text x="375.30" y="286.25">=30.9 ± 0.6%</text></g>
<g class="lg" style="fill:#ff0000"><text x="336.00" y="303.50" font-style="italic">P</text><text x="343.90" y="303.50" class="sb">high</text><text x="360.80" y="303.50">=62.5 ± 0.4%</text></g>
</g>
<g id="panel-e">
<g clip-path="url(#ce)">
<path d="M50.56 644.90h4.89M55.44 643.60h4.89M60.33 642.80h4.89M65.22 639.50h4.89M70.11 640.90h4.89M74.99 636.30h4.89M79.88 641.90h4.89M84.77 642.80h4.89M89.66 638.80h4.89M94.54 638.60h4.89M99.43 640.60h4.89M104.32 638.60h4.89M109.21 631.30h4.89M114.09 637.70h4.89M118.98 633.97h4.89M123.87 626.50h4.89M128.76 631.10h4.89M133.64 625.20h4.89M138.53 614.40h4.89M143.42 614.90h4.89M148.31 611.30h4.89M153.19 606.70h4.89M158.08 597.50h4.89M162.97 588.60h4.89M167.86 577.50h4.89M172.74 570.50h4.89M177.63 553.50h4.89M182.52 533.10h4.89M187.41 554.10h4.89M192.29 514.30h4.89M197.18 521.20h4.89M202.07 518.60h4.89M206.96 548.20h4.89M211.84 584.40h4.89M216.73 606.50h4.89M221.62 627.10h4.89M226.51 637.30h4.89M231.39 644.20h4.89M236.28 645.60h4.89M241.17 646.10h4.89M246.06 646.20h4.89M50.56 646.30V644.90M55.44 646.30V643.60M60.33 646.30V642.80M65.22 646.30V639.50M70.11 646.30V639.50M74.99 646.30V636.30M79.88 646.30V636.30M84.77 646.30V641.90M89.66 646.30V638.80M94.54 646.30V638.60M99.43 646.30V638.60M104.32 646.30V638.60M109.21 646.30V631.30M114.09 646.30V631.30M118.98 646.30V633.97M123.87 646.30V626.50M128.76 646.30V626.50M133.64 646.30V625.20M138.53 646.30V614.40M143.42 646.30V614.40M148.31 646.30V611.30M153.19 646.30V606.70M158.08 646.30V597.50M162.97 646.30V588.60M167.86 646.30V577.50M172.74 646.30V570.50M177.63 646.30V553.50M182.52 646.30V533.10M187.41 646.30V533.10M192.29 646.30V514.30M197.18 646.30V514.30M202.07 646.30V518.60M206.96 646.30V518.60M211.84 646.30V548.20M216.73 646.30V584.40M221.62 646.30V606.50M226.51 646.30V627.10M231.39 646.30V637.30M236.28 646.30V644.20M241.17 646.30V645.60M246.06 646.30V646.10M250.94 646.30V646.20" fill="none" stroke="#1a1a1a" stroke-width="0.6" stroke-linecap="square"/>
<path d="M53.00 645.00 L53.98 644.90 L54.95 644.79 L55.93 644.67 L56.91 644.55 L57.89 644.42 L58.87 644.29 L59.84 644.15 L60.82 644.01 L61.80 643.85 L62.77 643.70 L63.75 643.53 L64.73 643.36 L65.71 643.19 L66.69 643.01 L67.66 642.82 L68.64 642.63 L69.62 642.44 L70.59 642.24 L71.57 642.03 L72.55 641.83 L73.53 641.62 L74.50 641.40 L75.48 641.19 L76.46 640.97 L77.44 640.75 L78.41 640.54 L79.39 640.32 L80.37 640.10 L81.35 639.89 L82.33 639.67 L83.30 639.46 L84.28 639.26 L85.26 639.05 L86.23 638.85 L87.21 638.66 L88.19 638.47 L89.17 638.28 L90.15 638.11 L91.12 637.94 L92.10 637.77 L93.08 637.61 L94.06 637.46 L95.03 637.32 L96.01 637.18 L96.99 637.05 L97.97 636.93 L98.94 636.81 L99.92 636.70 L100.90 636.59 L101.88 636.49 L102.85 636.39 L103.83 636.29 L104.81 636.21 L105.78 636.13 L106.76 636.05 L107.74 635.98 L108.72 635.90 L109.69 635.82 L110.67 635.74 L111.65 635.66 L112.63 635.56 L113.60 635.46 L114.58 635.34 L115.56 635.21 L116.54 635.06 L117.52 634.89 L118.49 634.70 L119.47 634.48 L120.45 634.24 L121.42 633.97 L122.40 633.66 L123.38 633.33 L124.36 632.96 L125.33 632.56 L126.31 632.12 L127.29 631.64 L128.27 631.12 L129.25 630.56 L130.22 629.97 L131.20 629.33 L132.18 628.66 L133.16 627.95 L134.13 627.20 L135.11 626.42 L136.09 625.60 L137.06 624.75 L138.04 623.88 L139.02 622.98 L140.00 622.05 L140.98 621.11 L141.95 620.14 L142.93 619.17 L143.91 618.18 L144.88 617.19 L145.86 616.20 L146.84 615.21 L147.82 614.22 L148.80 613.24 L149.77 612.26 L150.75 611.30 L151.73 610.35 L152.70 609.42 L153.68 608.49 L154.66 607.59 L155.64 606.69 L156.62 605.80 L157.59 604.91 L158.57 604.03 L159.55 603.13 L160.53 602.23 L161.50 601.29 L162.48 600.33 L163.46 599.31 L164.44 598.24 L165.41 597.10 L166.39 595.88 L167.37 594.56 L168.34 593.12 L169.32 591.57 L170.30 589.87 L171.28 588.02 L172.25 586.00 L173.23 583.81 L174.21 581.43 L175.19 578.87 L176.17 576.11 L177.14 573.16 L178.12 570.02 L179.10 566.71 L180.07 563.23 L181.05 559.62 L182.03 555.88 L183.01 552.05 L183.99 548.17 L184.96 544.26 L185.94 540.37 L186.92 536.54 L187.89 532.82 L188.87 529.25 L189.85 525.89 L190.83 522.77 L191.81 519.96 L192.78 517.49 L193.76 515.41 L194.74 513.75 L195.72 512.54 L196.69 511.82 L197.67 511.60 L198.65 511.90 L199.62 512.72 L200.60 514.03 L201.58 515.82 L202.56 518.08 L203.53 520.79 L204.51 523.92 L205.49 527.44 L206.47 531.32 L207.44 535.52 L208.42 540.00 L209.40 544.70 L210.38 549.60 L211.36 554.63 L212.33 559.76 L213.31 564.94 L214.29 570.12 L215.26 575.27 L216.24 580.35 L217.22 585.32 L218.20 590.15 L219.17 594.81 L220.15 599.29 L221.13 603.55 L222.11 607.59 L223.09 611.40 L224.06 614.97 L225.04 618.28 L226.02 621.36 L227.00 624.19 L227.97 626.78 L228.95 629.14 L229.93 631.28 L230.91 633.20 L231.88 634.93 L232.86 636.47 L233.84 637.84 L234.81 639.05 L235.79 640.11 L236.77 641.04 L237.75 641.85 L238.72 642.55 L239.70 643.15 L240.68 643.67 L241.66 644.11 L242.63 644.49 L243.61 644.80 L244.59 645.07 L245.57 645.29 L246.54 645.48 L247.52 645.63 L248.50 645.76" fill="none" stroke="#a8a8a8" stroke-width="2.5" stroke-linejoin="round"/>
</g>
<path d="M53.00 646.30V481.00M49.20 481.00H248.50V646.30H53.00" fill="none" stroke="#0a0a0a" stroke-width="1.35" stroke-linecap="square"/>
<path d="M53.00 646.30h-6.5M53.00 627.92h-3.6M53.00 609.55h-6.5M53.00 591.17h-3.6M53.00 572.80h-6.5M53.00 554.42h-3.6M53.00 536.05h-6.5M53.00 517.67h-3.6M53.00 499.30h-6.5M53.00 646.30v7.5M72.55 646.30v4.2M92.10 646.30v7.5M111.65 646.30v4.2M131.20 646.30v7.5M150.75 646.30v4.2M170.30 646.30v7.5M189.85 646.30v4.2M209.40 646.30v7.5M228.95 646.30v4.2M248.50 646.30v7.5" fill="none" stroke="#0a0a0a" stroke-width="1.1"/>
<g clip-path="url(#ce)">
<path d="M53.00 646.30 L53.00 645.00 L53.98 644.90 L54.95 644.79 L55.93 644.67 L56.91 644.55 L57.89 644.42 L58.87 644.29 L59.84 644.15 L60.82 644.01 L61.80 643.85 L62.77 643.70 L63.75 643.53 L64.73 643.36 L65.71 643.19 L66.69 643.01 L67.66 642.82 L68.64 642.63 L69.62 642.44 L70.59 642.24 L71.57 642.04 L72.55 641.83 L73.53 641.62 L74.50 641.41 L75.48 641.20 L76.46 640.99 L77.44 640.77 L78.41 640.56 L79.39 640.35 L80.37 640.13 L81.35 639.93 L82.33 639.72 L83.30 639.52 L84.28 639.32 L85.26 639.12 L86.23 638.94 L87.21 638.76 L88.19 638.58 L89.17 638.42 L90.15 638.26 L91.12 638.11 L92.10 637.98 L93.08 637.85 L94.06 637.73 L95.03 637.63 L96.01 637.54 L96.99 637.46 L97.97 637.39 L98.94 637.34 L99.92 637.30 L100.90 637.27 L101.88 637.26 L102.85 637.26 L103.83 637.28 L104.81 637.32 L105.78 637.38 L106.76 637.45 L107.74 637.55 L108.72 637.66 L109.69 637.78 L110.67 637.92 L111.65 638.08 L112.63 638.25 L113.60 638.43 L114.58 638.63 L115.56 638.83 L116.54 639.05 L117.52 639.27 L118.49 639.50 L119.47 639.74 L120.45 639.98 L121.42 640.22 L122.40 640.47 L123.38 640.72 L124.36 640.97 L125.33 641.21 L126.31 641.46 L127.29 641.71 L128.27 641.95 L129.25 642.18 L130.22 642.42 L131.20 642.64 L132.18 642.86 L133.16 643.08 L134.13 643.28 L135.11 643.48 L136.09 643.68 L137.06 643.86 L138.04 644.03 L139.02 644.20 L140.00 644.36 L140.98 644.51 L141.95 644.65 L142.93 644.79 L143.91 644.91 L144.88 645.03 L145.86 645.14 L146.84 645.24 L147.82 645.34 L148.80 645.43 L149.77 645.51 L150.75 645.59 L151.73 645.66 L152.70 645.72 L153.68 645.78 L154.66 645.84 L155.64 645.88 L156.62 645.93 L157.59 645.97 L158.57 646.01 L159.55 646.04 L160.53 646.07 L161.50 646.10 L162.48 646.12 L163.46 646.14 L164.44 646.16 L165.41 646.18 L166.39 646.19 L167.37 646.21 L168.34 646.22 L169.32 646.23 L170.30 646.24 L171.28 646.25 L172.25 646.25 L173.23 646.26 L174.21 646.27 L175.19 646.27 L176.17 646.28 L177.14 646.28 L178.12 646.28 L179.10 646.28 L180.07 646.29 L181.05 646.29 L182.03 646.29 L183.01 646.29 L183.99 646.29 L184.96 646.29 L185.94 646.30 L186.92 646.30 L187.89 646.30 L188.87 646.30 L189.85 646.30 L190.83 646.30 L191.81 646.30 L192.78 646.30 L193.76 646.30 L194.74 646.30 L195.72 646.30 L196.69 646.30 L197.67 646.30 L198.65 646.30 L199.62 646.30 L200.60 646.30 L201.58 646.30 L202.56 646.30 L203.53 646.30 L204.51 646.30 L205.49 646.30 L206.47 646.30 L207.44 646.30 L208.42 646.30 L209.40 646.30 L210.38 646.30 L211.36 646.30 L212.33 646.30 L213.31 646.30 L214.29 646.30 L215.26 646.30 L216.24 646.30 L217.22 646.30 L218.20 646.30 L219.17 646.30 L220.15 646.30 L221.13 646.30 L222.11 646.30 L223.09 646.30 L224.06 646.30 L225.04 646.30 L226.02 646.30 L227.00 646.30 L227.97 646.30 L228.95 646.30 L229.93 646.30 L230.91 646.30 L231.88 646.30 L232.86 646.30 L233.84 646.30 L234.81 646.30 L235.79 646.30 L236.77 646.30 L237.75 646.30 L238.72 646.30 L239.70 646.30 L240.68 646.30 L241.66 646.30 L242.63 646.30 L243.61 646.30 L244.59 646.30 L245.57 646.30 L246.54 646.30 L247.52 646.30 L248.50 646.30 L248.50 646.30Z" fill="rgba(0,0,255,0.5)" stroke="none"/>
<path d="M53.00 646.30 L53.00 646.30 L53.98 646.30 L54.95 646.30 L55.93 646.30 L56.91 646.30 L57.89 646.30 L58.87 646.30 L59.84 646.30 L60.82 646.30 L61.80 646.30 L62.77 646.30 L63.75 646.30 L64.73 646.30 L65.71 646.30 L66.69 646.30 L67.66 646.30 L68.64 646.30 L69.62 646.30 L70.59 646.29 L71.57 646.29 L72.55 646.29 L73.53 646.29 L74.50 646.29 L75.48 646.29 L76.46 646.28 L77.44 646.28 L78.41 646.28 L79.39 646.27 L80.37 646.27 L81.35 646.26 L82.33 646.26 L83.30 646.25 L84.28 646.24 L85.26 646.23 L86.23 646.22 L87.21 646.20 L88.19 646.19 L89.17 646.17 L90.15 646.15 L91.12 646.12 L92.10 646.10 L93.08 646.06 L94.06 646.03 L95.03 645.99 L96.01 645.94 L96.99 645.89 L97.97 645.83 L98.94 645.77 L99.92 645.70 L100.90 645.62 L101.88 645.52 L102.85 645.42 L103.83 645.31 L104.81 645.19 L105.78 645.05 L106.76 644.90 L107.74 644.73 L108.72 644.54 L109.69 644.34 L110.67 644.12 L111.65 643.88 L112.63 643.61 L113.60 643.32 L114.58 643.01 L115.56 642.68 L116.54 642.31 L117.52 641.92 L118.49 641.50 L119.47 641.05 L120.45 640.56 L121.42 640.05 L122.40 639.50 L123.38 638.91 L124.36 638.30 L125.33 637.64 L126.31 636.95 L127.29 636.23 L128.27 635.47 L129.25 634.68 L130.22 633.85 L131.20 632.99 L132.18 632.10 L133.16 631.17 L134.13 630.22 L135.11 629.24 L136.09 628.23 L137.06 627.21 L138.04 626.16 L139.02 625.10 L140.00 624.02 L140.98 622.93 L141.95 621.84 L142.93 620.74 L143.91 619.65 L144.88 618.57 L145.86 617.49 L146.84 616.43 L147.82 615.39 L148.80 614.38 L149.77 613.40 L150.75 612.45 L151.73 611.54 L152.70 610.68 L153.68 609.87 L154.66 609.10 L155.64 608.40 L156.62 607.75 L157.59 607.17 L158.57 606.66 L159.55 606.22 L160.53 605.85 L161.50 605.56 L162.48 605.34 L163.46 605.20 L164.44 605.14 L165.41 605.16 L166.39 605.27 L167.37 605.45 L168.34 605.72 L169.32 606.07 L170.30 606.49 L171.28 606.99 L172.25 607.57 L173.23 608.21 L174.21 608.92 L175.19 609.69 L176.17 610.51 L177.14 611.39 L178.12 612.31 L179.10 613.28 L180.07 614.29 L181.05 615.33 L182.03 616.39 L183.01 617.48 L183.99 618.58 L184.96 619.70 L185.94 620.82 L186.92 621.94 L187.89 623.06 L188.87 624.18 L189.85 625.28 L190.83 626.37 L191.81 627.44 L192.78 628.49 L193.76 629.52 L194.74 630.52 L195.72 631.49 L196.69 632.43 L197.67 633.33 L198.65 634.20 L199.62 635.04 L200.60 635.84 L201.58 636.60 L202.56 637.32 L203.53 638.01 L204.51 638.66 L205.49 639.27 L206.47 639.85 L207.44 640.39 L208.42 640.90 L209.40 641.37 L210.38 641.81 L211.36 642.22 L212.33 642.60 L213.31 642.96 L214.29 643.28 L215.26 643.58 L216.24 643.85 L217.22 644.10 L218.20 644.33 L219.17 644.54 L220.15 644.73 L221.13 644.90 L222.11 645.06 L223.09 645.20 L224.06 645.33 L225.04 645.44 L226.02 645.54 L227.00 645.63 L227.97 645.71 L228.95 645.79 L229.93 645.85 L230.91 645.91 L231.88 645.96 L232.86 646.00 L233.84 646.04 L234.81 646.08 L235.79 646.11 L236.77 646.13 L237.75 646.16 L238.72 646.18 L239.70 646.20 L240.68 646.21 L241.66 646.22 L242.63 646.24 L243.61 646.24 L244.59 646.25 L245.57 646.26 L246.54 646.27 L247.52 646.27 L248.50 646.28 L248.50 646.30Z" fill="rgba(0,255,255,0.5)" stroke="none"/>
<path d="M53.00 646.30 L53.00 646.30 L53.98 646.30 L54.95 646.30 L55.93 646.30 L56.91 646.30 L57.89 646.30 L58.87 646.30 L59.84 646.30 L60.82 646.30 L61.80 646.30 L62.77 646.30 L63.75 646.30 L64.73 646.30 L65.71 646.30 L66.69 646.30 L67.66 646.30 L68.64 646.30 L69.62 646.30 L70.59 646.30 L71.57 646.30 L72.55 646.30 L73.53 646.30 L74.50 646.30 L75.48 646.30 L76.46 646.30 L77.44 646.30 L78.41 646.30 L79.39 646.30 L80.37 646.30 L81.35 646.30 L82.33 646.30 L83.30 646.30 L84.28 646.30 L85.26 646.30 L86.23 646.30 L87.21 646.30 L88.19 646.30 L89.17 646.30 L90.15 646.30 L91.12 646.30 L92.10 646.30 L93.08 646.30 L94.06 646.30 L95.03 646.30 L96.01 646.30 L96.99 646.30 L97.97 646.30 L98.94 646.30 L99.92 646.30 L100.90 646.30 L101.88 646.30 L102.85 646.30 L103.83 646.30 L104.81 646.30 L105.78 646.30 L106.76 646.30 L107.74 646.30 L108.72 646.30 L109.69 646.30 L110.67 646.30 L111.65 646.30 L112.63 646.30 L113.60 646.30 L114.58 646.30 L115.56 646.30 L116.54 646.30 L117.52 646.30 L118.49 646.30 L119.47 646.30 L120.45 646.30 L121.42 646.30 L122.40 646.30 L123.38 646.30 L124.36 646.30 L125.33 646.30 L126.31 646.30 L127.29 646.30 L128.27 646.30 L129.25 646.30 L130.22 646.30 L131.20 646.30 L132.18 646.30 L133.16 646.30 L134.13 646.30 L135.11 646.29 L136.09 646.29 L137.06 646.29 L138.04 646.28 L139.02 646.28 L140.00 646.27 L140.98 646.26 L141.95 646.25 L142.93 646.24 L143.91 646.22 L144.88 646.20 L145.86 646.17 L146.84 646.13 L147.82 646.08 L148.80 646.02 L149.77 645.95 L150.75 645.86 L151.73 645.75 L152.70 645.61 L153.68 645.45 L154.66 645.25 L155.64 645.01 L156.62 644.72 L157.59 644.37 L158.57 643.96 L159.55 643.47 L160.53 642.90 L161.50 642.24 L162.48 641.46 L163.46 640.57 L164.44 639.54 L165.41 638.36 L166.39 637.02 L167.37 635.50 L168.34 633.79 L169.32 631.87 L170.30 629.74 L171.28 627.38 L172.25 624.78 L173.23 621.94 L174.21 618.85 L175.19 615.51 L176.17 611.92 L177.14 608.09 L178.12 604.02 L179.10 599.74 L180.07 595.26 L181.05 590.60 L182.03 585.80 L183.01 580.88 L183.99 575.89 L184.96 570.87 L185.94 565.85 L186.92 560.90 L187.89 556.05 L188.87 551.37 L189.85 546.90 L190.83 542.70 L191.81 538.82 L192.78 535.30 L193.76 532.19 L194.74 529.53 L195.72 527.35 L196.69 525.69 L197.67 524.57 L198.65 524.00 L199.62 523.98 L200.60 524.50 L201.58 525.53 L202.56 527.06 L203.53 529.08 L204.51 531.56 L205.49 534.47 L206.47 537.78 L207.44 541.43 L208.42 545.40 L209.40 549.63 L210.38 554.08 L211.36 558.71 L212.33 563.46 L213.31 568.28 L214.29 573.14 L215.26 578.00 L216.24 582.80 L217.22 587.52 L218.20 592.12 L219.17 596.57 L220.15 600.86 L221.13 604.95 L222.11 608.84 L223.09 612.50 L224.06 615.94 L225.04 619.15 L226.02 622.12 L227.00 624.85 L227.97 627.36 L228.95 629.65 L229.93 631.72 L230.91 633.60 L231.88 635.27 L232.86 636.77 L233.84 638.10 L234.81 639.27 L235.79 640.31 L236.77 641.21 L237.75 641.99 L238.72 642.67 L239.70 643.26 L240.68 643.76 L241.66 644.19 L242.63 644.55 L243.61 644.86 L244.59 645.12 L245.57 645.33 L246.54 645.51 L247.52 645.66 L248.50 645.79 L248.50 646.30Z" fill="rgba(255,0,0,0.5)" stroke="none"/>
<path d="M54.00 646.30H131.20" stroke="rgba(150,40,40,0.75)" stroke-width="0.9" fill="none"/>
<path d="M140.98 646.30H243.61" stroke="rgba(60,80,150,0.8)" stroke-width="0.9" fill="none"/>
</g>
<text x="45.55" y="650.80" text-anchor="end" class="tk">0</text>
<text x="45.55" y="614.05" text-anchor="end" class="tk">0.01</text>
<text x="45.55" y="577.30" text-anchor="end" class="tk">0.02</text>
<text x="45.55" y="540.55" text-anchor="end" class="tk">0.03</text>
<text x="45.55" y="503.80" text-anchor="end" class="tk">0.04</text>
<text x="52.70" y="666.40" text-anchor="middle" class="tk">0</text>
<text x="92.00" y="666.40" text-anchor="middle" class="tk">0.2</text>
<text x="131.10" y="666.40" text-anchor="middle" class="tk">0.4</text>
<text x="170.20" y="666.40" text-anchor="middle" class="tk">0.6</text>
<text x="209.30" y="666.40" text-anchor="middle" class="tk">0.8</text>
<text x="248.20" y="666.40" text-anchor="middle" class="tk">1</text>
<text transform="translate(10.00 562.40) rotate(-90)" text-anchor="middle" class="lb">probability</text>
<text x="150.75" y="682.30" text-anchor="middle" class="lb">FRET efficiency</text>
<text x="39.20" y="475.90" class="tt" font-size="12.2">+200 nM Rpn13<tspan font-size="8.05" dy="-4.0">NTD</tspan><tspan dy="4.0">,</tspan><tspan font-size="12.05" dx="-0.95"> +150 pM K63-diUb</tspan></text>
<text x="-0.60" y="471.80" class="lt">e</text>
<g class="lg" style="fill:#0000ff"><text x="59.00" y="498.60" font-style="italic">P</text><text x="66.90" y="498.60" class="sb">low</text><text x="80.20" y="498.60">=7.6 ± 0.1%</text></g>
<g class="lg" style="fill:#00ffff"><text x="59.00" y="515.85" font-style="italic">P</text><text x="66.90" y="515.85" class="sb">medium</text><text x="98.30" y="515.85">=30.7 ± 2.2%</text></g>
<g class="lg" style="fill:#ff0000"><text x="59.00" y="533.10" font-style="italic">P</text><text x="66.90" y="533.10" class="sb">high</text><text x="83.80" y="533.10">=61.8± 2.2%</text></g>
</g>
<g id="panel-f">
<g clip-path="url(#cf)">
<path d="M325.56 646.10h4.89M330.44 645.20h4.89M335.33 644.40h4.89M340.22 642.80h4.89M345.11 641.50h4.89M349.99 637.60h4.89M354.88 642.20h4.89M359.77 641.80h4.89M364.66 640.80h4.89M369.54 640.20h4.89M374.43 640.20h4.89M379.32 639.90h4.89M384.21 633.90h4.89M389.09 639.50h4.89M393.98 638.30h4.89M398.87 625.90h4.89M403.76 630.10h4.89M408.64 627.00h4.89M413.53 619.10h4.89M418.42 622.20h4.89M423.31 612.00h4.89M428.19 611.60h4.89M433.08 594.50h4.89M437.97 586.90h4.89M442.86 571.80h4.89M447.74 575.50h4.89M452.63 556.70h4.89M457.52 527.50h4.89M462.41 553.80h4.89M467.29 515.00h4.89M472.18 527.50h4.89M477.07 512.30h4.89M481.96 549.80h4.89M486.84 586.60h4.89M491.73 607.70h4.89M496.62 625.70h4.89M501.51 637.30h4.89M506.39 645.20h4.89M511.28 646.20h4.89M516.17 646.60h4.89M521.06 646.70h4.89M325.56 646.80V646.10M330.44 646.80V645.20M335.33 646.80V644.40M340.22 646.80V642.80M345.11 646.80V641.50M349.99 646.80V637.60M354.88 646.80V637.60M359.77 646.80V641.80M364.66 646.80V640.80M369.54 646.80V640.20M374.43 646.80V640.20M379.32 646.80V639.90M384.21 646.80V633.90M389.09 646.80V633.90M393.98 646.80V638.30M398.87 646.80V625.90M403.76 646.80V625.90M408.64 646.80V627.00M413.53 646.80V619.10M418.42 646.80V619.10M423.31 646.80V612.00M428.19 646.80V611.60M433.08 646.80V594.50M437.97 646.80V586.90M442.86 646.80V571.80M447.74 646.80V571.80M452.63 646.80V556.70M457.52 646.80V527.50M462.41 646.80V527.50M467.29 646.80V515.00M472.18 646.80V515.00M477.07 646.80V512.30M481.96 646.80V512.30M486.84 646.80V549.80M491.73 646.80V586.60M496.62 646.80V607.70M501.51 646.80V625.70M506.39 646.80V637.30M511.28 646.80V645.20M516.17 646.80V646.20M521.06 646.80V646.60M525.94 646.80V646.70" fill="none" stroke="#1a1a1a" stroke-width="0.6" stroke-linecap="square"/>
<path d="M328.00 645.96 L328.98 645.88 L329.95 645.79 L330.93 645.70 L331.91 645.60 L332.89 645.50 L333.87 645.38 L334.84 645.26 L335.82 645.14 L336.80 645.01 L337.77 644.87 L338.75 644.72 L339.73 644.57 L340.71 644.40 L341.69 644.24 L342.66 644.06 L343.64 643.88 L344.62 643.70 L345.60 643.51 L346.57 643.31 L347.55 643.11 L348.53 642.90 L349.50 642.69 L350.48 642.47 L351.46 642.26 L352.44 642.04 L353.42 641.81 L354.39 641.59 L355.37 641.37 L356.35 641.15 L357.32 640.93 L358.30 640.71 L359.28 640.49 L360.26 640.28 L361.24 640.07 L362.21 639.87 L363.19 639.67 L364.17 639.47 L365.14 639.29 L366.12 639.11 L367.10 638.94 L368.08 638.77 L369.06 638.61 L370.03 638.47 L371.01 638.32 L371.99 638.19 L372.97 638.06 L373.94 637.94 L374.92 637.83 L375.90 637.72 L376.88 637.62 L377.85 637.52 L378.83 637.43 L379.81 637.34 L380.79 637.26 L381.76 637.17 L382.74 637.08 L383.72 636.99 L384.69 636.90 L385.67 636.79 L386.65 636.68 L387.63 636.56 L388.61 636.42 L389.58 636.27 L390.56 636.11 L391.54 635.92 L392.51 635.71 L393.49 635.48 L394.47 635.22 L395.45 634.94 L396.43 634.63 L397.40 634.28 L398.38 633.91 L399.36 633.50 L400.33 633.06 L401.31 632.58 L402.29 632.07 L403.27 631.52 L404.25 630.94 L405.22 630.32 L406.20 629.67 L407.18 628.98 L408.15 628.25 L409.13 627.50 L410.11 626.72 L411.09 625.90 L412.06 625.06 L413.04 624.20 L414.02 623.32 L415.00 622.41 L415.98 621.49 L416.95 620.56 L417.93 619.62 L418.91 618.68 L419.88 617.73 L420.86 616.78 L421.84 615.83 L422.82 614.89 L423.80 613.96 L424.77 613.04 L425.75 612.13 L426.73 611.23 L427.70 610.34 L428.68 609.47 L429.66 608.61 L430.64 607.75 L431.62 606.90 L432.59 606.05 L433.57 605.19 L434.55 604.33 L435.52 603.44 L436.50 602.52 L437.48 601.56 L438.46 600.55 L439.44 599.48 L440.41 598.33 L441.39 597.10 L442.37 595.77 L443.35 594.33 L444.32 592.76 L445.30 591.06 L446.28 589.20 L447.25 587.17 L448.23 584.97 L449.21 582.58 L450.19 580.00 L451.17 577.23 L452.14 574.27 L453.12 571.13 L454.10 567.81 L455.07 564.32 L456.05 560.69 L457.03 556.95 L458.01 553.11 L458.99 549.20 L459.96 545.28 L460.94 541.37 L461.92 537.52 L462.89 533.78 L463.87 530.19 L464.85 526.80 L465.83 523.65 L466.81 520.81 L467.78 518.30 L468.76 516.17 L469.74 514.46 L470.72 513.21 L471.69 512.43 L472.67 512.16 L473.65 512.40 L474.62 513.17 L475.60 514.43 L476.58 516.18 L477.56 518.40 L478.53 521.08 L479.51 524.18 L480.49 527.69 L481.47 531.56 L482.44 535.75 L483.42 540.23 L484.40 544.94 L485.38 549.84 L486.36 554.89 L487.33 560.04 L488.31 565.24 L489.29 570.45 L490.26 575.62 L491.24 580.72 L492.22 585.71 L493.20 590.57 L494.17 595.25 L495.15 599.75 L496.13 604.03 L497.11 608.09 L498.09 611.91 L499.06 615.49 L500.04 618.82 L501.02 621.91 L502.00 624.74 L502.97 627.34 L503.95 629.70 L504.93 631.84 L505.90 633.77 L506.88 635.50 L507.86 637.04 L508.84 638.41 L509.81 639.61 L510.79 640.67 L511.77 641.60 L512.75 642.40 L513.73 643.09 L514.70 643.69 L515.68 644.21 L516.66 644.64 L517.63 645.02 L518.61 645.33 L519.59 645.59 L520.57 645.81 L521.54 646.00 L522.52 646.15 L523.50 646.27" fill="none" stroke="#a8a8a8" stroke-width="2.5" stroke-linejoin="round"/>
</g>
<path d="M328.00 646.80V481.00M324.20 481.00H523.50V646.80H328.00" fill="none" stroke="#0a0a0a" stroke-width="1.35" stroke-linecap="square"/>
<path d="M328.00 646.80h-6.5M328.00 628.42h-3.6M328.00 610.05h-6.5M328.00 591.67h-3.6M328.00 573.30h-6.5M328.00 554.92h-3.6M328.00 536.55h-6.5M328.00 518.17h-3.6M328.00 499.80h-6.5M328.00 646.80v6.3M347.55 646.80v4.0M367.10 646.80v6.3M386.65 646.80v4.0M406.20 646.80v6.3M425.75 646.80v4.0M445.30 646.80v6.3M464.85 646.80v4.0M484.40 646.80v6.3M503.95 646.80v4.0M523.50 646.80v6.3" fill="none" stroke="#0a0a0a" stroke-width="1.1"/>
<g clip-path="url(#cf)">
<path d="M328.00 646.80 L328.00 645.96 L328.98 645.88 L329.95 645.79 L330.93 645.70 L331.91 645.60 L332.89 645.50 L333.87 645.38 L334.84 645.27 L335.82 645.14 L336.80 645.01 L337.77 644.87 L338.75 644.72 L339.73 644.57 L340.71 644.41 L341.69 644.24 L342.66 644.07 L343.64 643.89 L344.62 643.71 L345.60 643.51 L346.57 643.32 L347.55 643.12 L348.53 642.91 L349.50 642.71 L350.48 642.50 L351.46 642.28 L352.44 642.07 L353.42 641.85 L354.39 641.63 L355.37 641.42 L356.35 641.21 L357.32 640.99 L358.30 640.79 L359.28 640.58 L360.26 640.39 L361.24 640.19 L362.21 640.01 L363.19 639.83 L364.17 639.66 L365.14 639.51 L366.12 639.36 L367.10 639.22 L368.08 639.10 L369.06 638.99 L370.03 638.89 L371.01 638.80 L371.99 638.73 L372.97 638.68 L373.94 638.64 L374.92 638.61 L375.90 638.60 L376.88 638.61 L377.85 638.64 L378.83 638.68 L379.81 638.73 L380.79 638.81 L381.76 638.89 L382.74 639.00 L383.72 639.12 L384.69 639.25 L385.67 639.39 L386.65 639.55 L387.63 639.72 L388.61 639.90 L389.58 640.09 L390.56 640.28 L391.54 640.49 L392.51 640.70 L393.49 640.91 L394.47 641.13 L395.45 641.36 L396.43 641.58 L397.40 641.81 L398.38 642.03 L399.36 642.26 L400.33 642.48 L401.31 642.70 L402.29 642.92 L403.27 643.13 L404.25 643.34 L405.22 643.55 L406.20 643.74 L407.18 643.94 L408.15 644.12 L409.13 644.30 L410.11 644.47 L411.09 644.64 L412.06 644.79 L413.04 644.94 L414.02 645.08 L415.00 645.22 L415.98 645.34 L416.95 645.46 L417.93 645.58 L418.91 645.68 L419.88 645.78 L420.86 645.87 L421.84 645.96 L422.82 646.03 L423.80 646.11 L424.77 646.17 L425.75 646.24 L426.73 646.29 L427.70 646.34 L428.68 646.39 L429.66 646.44 L430.64 646.48 L431.62 646.51 L432.59 646.54 L433.57 646.57 L434.55 646.60 L435.52 646.62 L436.50 646.64 L437.48 646.66 L438.46 646.68 L439.44 646.69 L440.41 646.71 L441.39 646.72 L442.37 646.73 L443.35 646.74 L444.32 646.75 L445.30 646.75 L446.28 646.76 L447.25 646.77 L448.23 646.77 L449.21 646.78 L450.19 646.78 L451.17 646.78 L452.14 646.78 L453.12 646.79 L454.10 646.79 L455.07 646.79 L456.05 646.79 L457.03 646.79 L458.01 646.79 L458.99 646.80 L459.96 646.80 L460.94 646.80 L461.92 646.80 L462.89 646.80 L463.87 646.80 L464.85 646.80 L465.83 646.80 L466.81 646.80 L467.78 646.80 L468.76 646.80 L469.74 646.80 L470.72 646.80 L471.69 646.80 L472.67 646.80 L473.65 646.80 L474.62 646.80 L475.60 646.80 L476.58 646.80 L477.56 646.80 L478.53 646.80 L479.51 646.80 L480.49 646.80 L481.47 646.80 L482.44 646.80 L483.42 646.80 L484.40 646.80 L485.38 646.80 L486.36 646.80 L487.33 646.80 L488.31 646.80 L489.29 646.80 L490.26 646.80 L491.24 646.80 L492.22 646.80 L493.20 646.80 L494.17 646.80 L495.15 646.80 L496.13 646.80 L497.11 646.80 L498.09 646.80 L499.06 646.80 L500.04 646.80 L501.02 646.80 L502.00 646.80 L502.97 646.80 L503.95 646.80 L504.93 646.80 L505.90 646.80 L506.88 646.80 L507.86 646.80 L508.84 646.80 L509.81 646.80 L510.79 646.80 L511.77 646.80 L512.75 646.80 L513.73 646.80 L514.70 646.80 L515.68 646.80 L516.66 646.80 L517.63 646.80 L518.61 646.80 L519.59 646.80 L520.57 646.80 L521.54 646.80 L522.52 646.80 L523.50 646.80 L523.50 646.80Z" fill="rgba(0,0,255,0.5)" stroke="none"/>
<path d="M328.00 646.80 L328.00 646.80 L328.98 646.80 L329.95 646.80 L330.93 646.80 L331.91 646.80 L332.89 646.80 L333.87 646.80 L334.84 646.80 L335.82 646.80 L336.80 646.80 L337.77 646.80 L338.75 646.80 L339.73 646.80 L340.71 646.80 L341.69 646.80 L342.66 646.79 L343.64 646.79 L344.62 646.79 L345.60 646.79 L346.57 646.79 L347.55 646.79 L348.53 646.78 L349.50 646.78 L350.48 646.78 L351.46 646.77 L352.44 646.77 L353.42 646.76 L354.39 646.76 L355.37 646.75 L356.35 646.74 L357.32 646.73 L358.30 646.72 L359.28 646.71 L360.26 646.69 L361.24 646.68 L362.21 646.66 L363.19 646.63 L364.17 646.61 L365.14 646.58 L366.12 646.55 L367.10 646.51 L368.08 646.47 L369.06 646.43 L370.03 646.38 L371.01 646.32 L371.99 646.26 L372.97 646.18 L373.94 646.11 L374.92 646.02 L375.90 645.92 L376.88 645.81 L377.85 645.69 L378.83 645.56 L379.81 645.41 L380.79 645.25 L381.76 645.08 L382.74 644.88 L383.72 644.67 L384.69 644.45 L385.67 644.20 L386.65 643.93 L387.63 643.64 L388.61 643.32 L389.58 642.99 L390.56 642.62 L391.54 642.23 L392.51 641.81 L393.49 641.37 L394.47 640.89 L395.45 640.38 L396.43 639.85 L397.40 639.28 L398.38 638.68 L399.36 638.04 L400.33 637.38 L401.31 636.68 L402.29 635.95 L403.27 635.19 L404.25 634.40 L405.22 633.58 L406.20 632.72 L407.18 631.84 L408.15 630.94 L409.13 630.01 L410.11 629.05 L411.09 628.08 L412.06 627.08 L413.04 626.07 L414.02 625.05 L415.00 624.02 L415.98 622.99 L416.95 621.95 L417.93 620.91 L418.91 619.88 L419.88 618.86 L420.86 617.84 L421.84 616.85 L422.82 615.88 L423.80 614.93 L424.77 614.02 L425.75 613.14 L426.73 612.29 L427.70 611.49 L428.68 610.74 L429.66 610.03 L430.64 609.38 L431.62 608.79 L432.59 608.25 L433.57 607.78 L434.55 607.37 L435.52 607.03 L436.50 606.76 L437.48 606.56 L438.46 606.43 L439.44 606.38 L440.41 606.40 L441.39 606.50 L442.37 606.68 L443.35 606.94 L444.32 607.28 L445.30 607.69 L446.28 608.19 L447.25 608.75 L448.23 609.38 L449.21 610.07 L450.19 610.82 L451.17 611.63 L452.14 612.49 L453.12 613.40 L454.10 614.35 L455.07 615.34 L456.05 616.36 L457.03 617.40 L458.01 618.47 L458.99 619.55 L459.96 620.65 L460.94 621.75 L461.92 622.86 L462.89 623.96 L463.87 625.05 L464.85 626.14 L465.83 627.21 L466.81 628.26 L467.78 629.29 L468.76 630.30 L469.74 631.28 L470.72 632.23 L471.69 633.16 L472.67 634.05 L473.65 634.90 L474.62 635.72 L475.60 636.51 L476.58 637.26 L477.56 637.97 L478.53 638.64 L479.51 639.28 L480.49 639.89 L481.47 640.45 L482.44 640.99 L483.42 641.49 L484.40 641.95 L485.38 642.39 L486.36 642.79 L487.33 643.16 L488.31 643.51 L489.29 643.83 L490.26 644.12 L491.24 644.39 L492.22 644.64 L493.20 644.86 L494.17 645.07 L495.15 645.25 L496.13 645.42 L497.11 645.58 L498.09 645.72 L499.06 645.84 L500.04 645.95 L501.02 646.05 L502.00 646.14 L502.97 646.22 L503.95 646.29 L504.93 646.36 L505.90 646.41 L506.88 646.46 L507.86 646.51 L508.84 646.55 L509.81 646.58 L510.79 646.61 L511.77 646.64 L512.75 646.66 L513.73 646.68 L514.70 646.70 L515.68 646.71 L516.66 646.72 L517.63 646.74 L518.61 646.75 L519.59 646.75 L520.57 646.76 L521.54 646.77 L522.52 646.77 L523.50 646.78 L523.50 646.80Z" fill="rgba(0,255,255,0.5)" stroke="none"/>
<path d="M328.00 646.80 L328.00 646.80 L328.98 646.80 L329.95 646.80 L330.93 646.80 L331.91 646.80 L332.89 646.80 L333.87 646.80 L334.84 646.80 L335.82 646.80 L336.80 646.80 L337.77 646.80 L338.75 646.80 L339.73 646.80 L340.71 646.80 L341.69 646.80 L342.66 646.80 L343.64 646.80 L344.62 646.80 L345.60 646.80 L346.57 646.80 L347.55 646.80 L348.53 646.80 L349.50 646.80 L350.48 646.80 L351.46 646.80 L352.44 646.80 L353.42 646.80 L354.39 646.80 L355.37 646.80 L356.35 646.80 L357.32 646.80 L358.30 646.80 L359.28 646.80 L360.26 646.80 L361.24 646.80 L362.21 646.80 L363.19 646.80 L364.17 646.80 L365.14 646.80 L366.12 646.80 L367.10 646.80 L368.08 646.80 L369.06 646.80 L370.03 646.80 L371.01 646.80 L371.99 646.80 L372.97 646.80 L373.94 646.80 L374.92 646.80 L375.90 646.80 L376.88 646.80 L377.85 646.80 L378.83 646.80 L379.81 646.80 L380.79 646.80 L381.76 646.80 L382.74 646.80 L383.72 646.80 L384.69 646.80 L385.67 646.80 L386.65 646.80 L387.63 646.80 L388.61 646.80 L389.58 646.80 L390.56 646.80 L391.54 646.80 L392.51 646.80 L393.49 646.80 L394.47 646.80 L395.45 646.80 L396.43 646.80 L397.40 646.80 L398.38 646.80 L399.36 646.80 L400.33 646.80 L401.31 646.80 L402.29 646.80 L403.27 646.80 L404.25 646.80 L405.22 646.80 L406.20 646.80 L407.18 646.80 L408.15 646.80 L409.13 646.80 L410.11 646.79 L411.09 646.79 L412.06 646.79 L413.04 646.78 L414.02 646.78 L415.00 646.77 L415.98 646.76 L416.95 646.75 L417.93 646.74 L418.91 646.72 L419.88 646.69 L420.86 646.66 L421.84 646.63 L422.82 646.58 L423.80 646.52 L424.77 646.44 L425.75 646.35 L426.73 646.24 L427.70 646.10 L428.68 645.94 L429.66 645.74 L430.64 645.49 L431.62 645.20 L432.59 644.85 L433.57 644.44 L434.55 643.95 L435.52 643.38 L436.50 642.71 L437.48 641.94 L438.46 641.04 L439.44 640.01 L440.41 638.83 L441.39 637.48 L442.37 635.96 L443.35 634.25 L444.32 632.34 L445.30 630.21 L446.28 627.85 L447.25 625.26 L448.23 622.42 L449.21 619.33 L450.19 616.00 L451.17 612.42 L452.14 608.59 L453.12 604.54 L454.10 600.26 L455.07 595.79 L456.05 591.14 L457.03 586.35 L458.01 581.44 L458.99 576.46 L459.96 571.44 L460.94 566.42 L461.92 561.47 L462.89 556.63 L463.87 551.94 L464.85 547.46 L465.83 543.25 L466.81 539.35 L467.78 535.81 L468.76 532.67 L469.74 529.98 L470.72 527.78 L471.69 526.08 L472.67 524.92 L473.65 524.30 L474.62 524.24 L475.60 524.72 L476.58 525.72 L477.56 527.23 L478.53 529.23 L479.51 531.70 L480.49 534.60 L481.47 537.90 L482.44 541.56 L483.42 545.54 L484.40 549.79 L485.38 554.26 L486.36 558.90 L487.33 563.68 L488.31 568.53 L489.29 573.42 L490.26 578.30 L491.24 583.13 L492.22 587.88 L493.20 592.51 L494.17 596.99 L495.15 601.29 L496.13 605.41 L497.11 609.32 L498.09 613.00 L499.06 616.45 L500.04 619.67 L501.02 622.65 L502.00 625.40 L502.97 627.92 L503.95 630.21 L504.93 632.29 L505.90 634.16 L506.88 635.84 L507.86 637.33 L508.84 638.66 L509.81 639.83 L510.79 640.86 L511.77 641.76 L512.75 642.54 L513.73 643.22 L514.70 643.80 L515.68 644.29 L516.66 644.72 L517.63 645.08 L518.61 645.38 L519.59 645.64 L520.57 645.85 L521.54 646.03 L522.52 646.18 L523.50 646.30 L523.50 646.80Z" fill="rgba(255,0,0,0.5)" stroke="none"/>
<path d="M329.00 646.80H406.20" stroke="rgba(150,40,40,0.75)" stroke-width="0.9" fill="none"/>
<path d="M415.98 646.80H518.61" stroke="rgba(60,80,150,0.8)" stroke-width="0.9" fill="none"/>
</g>
<text x="319.95" y="651.30" text-anchor="end" class="tk">0</text>
<text x="319.95" y="614.55" text-anchor="end" class="tk">0.01</text>
<text x="319.95" y="577.80" text-anchor="end" class="tk">0.02</text>
<text x="319.95" y="541.05" text-anchor="end" class="tk">0.03</text>
<text x="319.95" y="504.30" text-anchor="end" class="tk">0.04</text>
<text x="327.00" y="666.70" text-anchor="middle" class="tk">0</text>
<text x="367.50" y="666.70" text-anchor="middle" class="tk">0.2</text>
<text x="406.60" y="666.70" text-anchor="middle" class="tk">0.4</text>
<text x="445.70" y="666.70" text-anchor="middle" class="tk">0.6</text>
<text x="484.80" y="666.70" text-anchor="middle" class="tk">0.8</text>
<text x="523.20" y="666.70" text-anchor="middle" class="tk">1</text>
<text transform="translate(284.90 563.60) rotate(-90)" text-anchor="middle" class="lb">probability</text>
<text x="432.55" y="681.80" text-anchor="middle" class="lb">FRET efficiency</text>
<text x="318.70" y="475.90" class="tt" font-size="12">+200 nM Rpn13<tspan font-size="7.92" dy="-4.0">NTD</tspan><tspan dy="4.0">,</tspan><tspan font-size="12.2" dx="0.2"> +150 pM M1-diUb</tspan></text>
<text x="274.50" y="471.80" class="lt">f</text>
<g class="lg" style="fill:#0000ff"><text x="335.80" y="498.60" font-style="italic">P</text><text x="343.70" y="498.60" class="sb">high</text><text x="360.60" y="498.60">=7.0 ± 0.4%</text></g>
<g class="lg" style="fill:#00ffff"><text x="335.80" y="515.85" font-style="italic">P</text><text x="343.70" y="515.85" class="sb">medium</text><text x="375.10" y="515.85">=30.7 ± 0.9%</text></g>
<g class="lg" style="fill:#ff0000"><text x="335.80" y="533.10" font-style="italic">P</text><text x="343.70" y="533.10" class="sb">high</text><text x="360.60" y="533.10">=62.3 ± 1.8%</text></g>
</g>
</svg>
</body>
</html>
